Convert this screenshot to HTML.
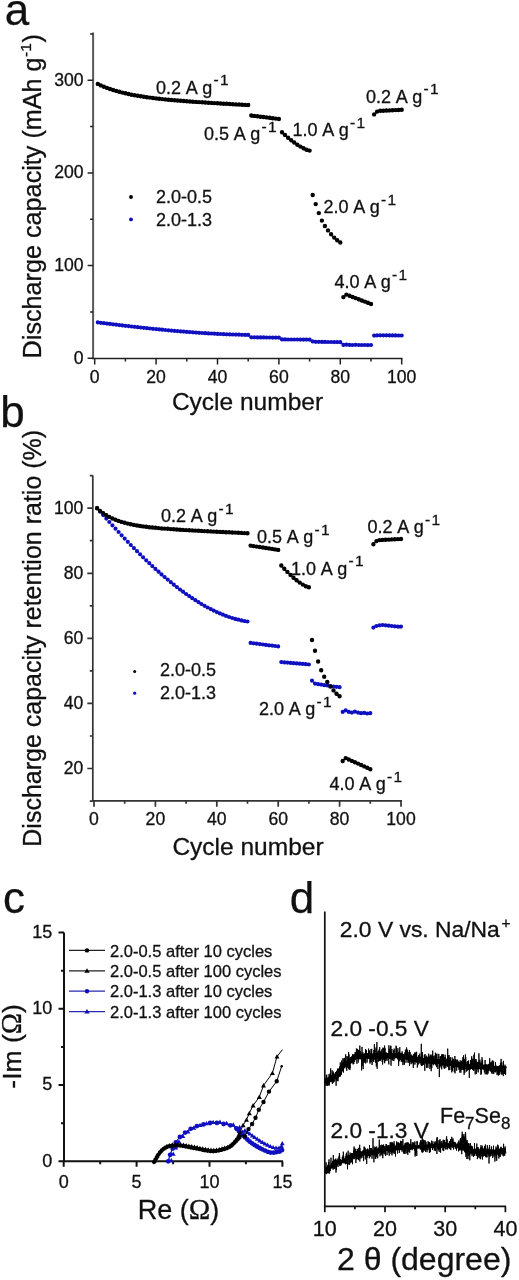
<!DOCTYPE html>
<html><head><meta charset="utf-8"><style>
html,body{margin:0;padding:0;background:#fff;}
svg{display:block;filter:blur(0.35px);}
</style></head><body>
<svg width="519" height="1280" viewBox="0 0 519 1280" font-family='"Liberation Sans", sans-serif'>
<rect width="519" height="1280" fill="#fff"/>
<path d="M93.1 32.5V359" stroke="#585858" stroke-width="2" fill="none"/>
<g stroke="#222" stroke-width="1.5" fill="none">
<path d="M92 358.6H402.5"/>
<path d="M93.1 358.3h-5.5M93.1 311.9h-3M93.1 265.6h-5.5M93.1 219.2h-3M93.1 172.9h-5.5M93.1 126.6h-3M93.1 80.2h-5.5M93.1 33.9h-3M94.7 358.6v6M125.4 358.6v3M156.1 358.6v6M186.8 358.6v3M217.5 358.6v6M248.2 358.6v3M278.9 358.6v6M309.6 358.6v3M340.3 358.6v6M371.0 358.6v3M401.7 358.6v6"/>
</g>
<g fill="#111">
<text x="4.7" y="25" font-size="44" text-anchor="start" stroke="#111" stroke-width="0.25">a</text>
<text x="83.5" y="363.8" font-size="17.6" text-anchor="end" stroke="#111" stroke-width="0.3">0</text>
<text x="83.5" y="271.1" font-size="17.6" text-anchor="end" stroke="#111" stroke-width="0.3">100</text>
<text x="83.5" y="178.4" font-size="17.6" text-anchor="end" stroke="#111" stroke-width="0.3">200</text>
<text x="83.5" y="85.7" font-size="17.6" text-anchor="end" stroke="#111" stroke-width="0.3">300</text>
<text x="94.7" y="383" font-size="17.6" text-anchor="middle" stroke="#111" stroke-width="0.3">0</text>
<text x="156.1" y="383" font-size="17.6" text-anchor="middle" stroke="#111" stroke-width="0.3">20</text>
<text x="217.5" y="383" font-size="17.6" text-anchor="middle" stroke="#111" stroke-width="0.3">40</text>
<text x="278.9" y="383" font-size="17.6" text-anchor="middle" stroke="#111" stroke-width="0.3">60</text>
<text x="340.3" y="383" font-size="17.6" text-anchor="middle" stroke="#111" stroke-width="0.3">80</text>
<text x="401.7" y="383" font-size="17.6" text-anchor="middle" stroke="#111" stroke-width="0.3">100</text>
<text x="247.5" y="410" font-size="24.5" text-anchor="middle" stroke="#111" stroke-width="0.3">Cycle number</text>
<text transform="translate(40.7 196.3) rotate(-90)" font-size="25.2" text-anchor="middle" stroke="#111" stroke-width="0.3">Discharge capacity (mAh g<tspan dy="-10" font-size="15.5" dx="0.5">-1</tspan><tspan dy="10" dx="0.5">)</tspan></text>
<text x="156" y="93.5" font-size="18" stroke="#111" stroke-width="0.3" word-spacing="0.6">0.2 A g<tspan dx="1.3" dy="-8.5" font-size="15.5" letter-spacing="1.2">-1</tspan></text>
<text x="204" y="140" font-size="18" stroke="#111" stroke-width="0.3" word-spacing="0.6">0.5 A g<tspan dx="1.3" dy="-8.5" font-size="15.5" letter-spacing="1.2">-1</tspan></text>
<text x="292.5" y="136" font-size="18" stroke="#111" stroke-width="0.3" word-spacing="0.6">1.0 A g<tspan dx="1.3" dy="-8.5" font-size="15.5" letter-spacing="1.2">-1</tspan></text>
<text x="366" y="102.5" font-size="18" stroke="#111" stroke-width="0.3" word-spacing="0.6">0.2 A g<tspan dx="1.3" dy="-8.5" font-size="15.5" letter-spacing="1.2">-1</tspan></text>
<text x="323.5" y="213" font-size="18" stroke="#111" stroke-width="0.3" word-spacing="0.6">2.0 A g<tspan dx="1.3" dy="-8.5" font-size="15.5" letter-spacing="1.2">-1</tspan></text>
<text x="334.5" y="288" font-size="18" stroke="#111" stroke-width="0.3" word-spacing="0.6">4.0 A g<tspan dx="1.3" dy="-8.5" font-size="15.5" letter-spacing="1.2">-1</tspan></text>
<text x="156" y="203" font-size="18" text-anchor="start" stroke="#111" stroke-width="0.3">2.0-0.5</text>
<text x="156" y="225.5" font-size="18" text-anchor="start" stroke="#111" stroke-width="0.3">2.0-1.3</text>
</g>
<path d="M97.8 322.4h0M100.8 322.8h0M103.9 323.2h0M107.0 323.6h0M110.0 323.9h0M113.1 324.3h0M116.2 324.7h0M119.3 325.1h0M122.3 325.4h0M125.4 325.8h0M128.5 326.1h0M131.5 326.5h0M134.6 326.8h0M137.7 327.2h0M140.8 327.5h0M143.8 327.8h0M146.9 328.2h0M150.0 328.5h0M153.0 328.8h0M156.1 329.1h0M159.2 329.4h0M162.2 329.7h0M165.3 330.0h0M168.4 330.3h0M171.4 330.6h0M174.5 330.9h0M177.6 331.1h0M180.7 331.4h0M183.7 331.6h0M186.8 331.9h0M189.9 332.1h0M192.9 332.3h0M196.0 332.6h0M199.1 332.8h0M202.1 333.0h0M205.2 333.2h0M208.3 333.4h0M211.4 333.5h0M214.4 333.7h0M217.5 333.9h0M220.6 334.0h0M223.6 334.2h0M226.7 334.3h0M229.8 334.4h0M232.9 334.5h0M235.9 334.6h0M239.0 334.7h0M242.1 334.8h0M245.1 334.9h0M248.2 334.9h0M251.3 337.3h0M254.3 337.3h0M257.4 337.4h0M260.5 337.4h0M263.6 337.4h0M266.6 337.5h0M269.7 337.5h0M272.8 337.6h0M275.8 337.6h0M278.9 337.7h0M282.0 339.4h0M285.0 339.4h0M288.1 339.5h0M291.2 339.5h0M294.2 339.5h0M297.3 339.5h0M300.4 339.6h0M303.5 339.6h0M306.5 339.6h0M309.6 339.7h0M312.7 341.4h0M315.7 341.8h0M318.8 341.8h0M321.9 341.9h0M324.9 341.9h0M328.0 342.0h0M331.1 342.0h0M334.2 342.1h0M337.2 342.1h0M340.3 342.2h0M343.4 344.9h0M346.4 344.7h0M349.5 344.9h0M352.6 345.0h0M355.6 344.8h0M358.7 345.0h0M361.8 345.0h0M364.9 345.0h0M367.9 345.1h0M371.0 345.0h0M374.1 335.6h0M377.1 335.4h0M380.2 335.3h0M383.3 335.3h0M386.3 335.3h0M389.4 335.4h0M392.5 335.4h0M395.6 335.4h0M398.6 335.5h0M401.7 335.5h0" stroke="#1010c0" stroke-width="4.2" stroke-linecap="round" fill="none"/>
<path d="M97.8 83.9h0M100.8 85.4h0M103.9 86.7h0M107.0 87.9h0M110.0 89.0h0M113.1 90.0h0M116.2 90.9h0M119.3 91.8h0M122.3 92.6h0M125.4 93.3h0M128.5 94.0h0M131.5 94.7h0M134.6 95.2h0M137.7 95.8h0M140.8 96.3h0M143.8 96.8h0M146.9 97.2h0M150.0 97.6h0M153.0 98.0h0M156.1 98.4h0M159.2 98.7h0M162.2 99.1h0M165.3 99.4h0M168.4 99.7h0M171.4 100.0h0M174.5 100.2h0M177.6 100.5h0M180.7 100.8h0M183.7 101.0h0M186.8 101.2h0M189.9 101.5h0M192.9 101.7h0M196.0 101.9h0M199.1 102.1h0M202.1 102.3h0M205.2 102.5h0M208.3 102.7h0M211.4 102.9h0M214.4 103.1h0M217.5 103.3h0M220.6 103.5h0M223.6 103.7h0M226.7 103.8h0M229.8 104.0h0M232.9 104.2h0M235.9 104.4h0M239.0 104.5h0M242.1 104.7h0M245.1 104.9h0M248.2 105.0h0M251.3 115.5h0M254.3 115.9h0M257.4 116.3h0M260.5 116.7h0M263.6 117.0h0M266.6 117.4h0M269.7 117.8h0M272.8 118.2h0M275.8 118.6h0M278.9 119.0h0M282.0 132.2h0M285.0 135.0h0M288.1 137.7h0M291.2 140.2h0M294.2 142.5h0M297.3 144.7h0M300.4 146.6h0M303.5 148.3h0M306.5 149.7h0M309.6 150.6h0M312.7 195.0h0M315.7 204.1h0M318.8 213.1h0M321.9 220.6h0M324.9 226.0h0M328.0 230.4h0M331.1 234.3h0M334.2 237.6h0M337.2 240.3h0M340.3 242.5h0M343.4 297.1h0M346.4 294.6h0M349.5 295.8h0M352.6 297.0h0M355.6 298.1h0M358.7 299.3h0M361.8 300.5h0M364.9 301.6h0M367.9 302.8h0M371.0 304.0h0M374.1 114.4h0M377.1 111.6h0M380.2 110.8h0M383.3 110.7h0M386.3 110.5h0M389.4 110.4h0M392.5 110.2h0M395.6 110.1h0M398.6 110.0h0M401.7 109.8h0" stroke="#000" stroke-width="4.4" stroke-linecap="round" fill="none"/>
<path d="M131.0 197.0h0" stroke="#000" stroke-width="3.9" stroke-linecap="round" fill="none"/>
<path d="M131.0 219.4h0" stroke="#1010c0" stroke-width="3.9" stroke-linecap="round" fill="none"/>
<g stroke="#333" stroke-width="1.7" fill="none">
<path d="M92.8 475.5V800.8H402"/>
<path d="M92.8 801.1h-3M92.8 768.5h-5.5M92.8 736.0h-3M92.8 703.4h-5.5M92.8 670.9h-3M92.8 638.4h-5.5M92.8 605.8h-3M92.8 573.3h-5.5M92.8 540.7h-3M92.8 508.2h-5.5M92.8 475.7h-3M94.0 800.8v6M124.7 800.8v3M155.4 800.8v6M186.1 800.8v3M216.8 800.8v6M247.5 800.8v3M278.2 800.8v6M308.9 800.8v3M339.6 800.8v6M370.3 800.8v3M401.0 800.8v6"/>
</g>
<g fill="#111">
<text x="0.2" y="427" font-size="44" text-anchor="start" stroke="#111" stroke-width="0.25">b</text>
<text x="83.3" y="774.32" font-size="17.6" text-anchor="end" stroke="#111" stroke-width="0.3">20</text>
<text x="83.3" y="709.24" font-size="17.6" text-anchor="end" stroke="#111" stroke-width="0.3">40</text>
<text x="83.3" y="644.16" font-size="17.6" text-anchor="end" stroke="#111" stroke-width="0.3">60</text>
<text x="83.3" y="579.08" font-size="17.6" text-anchor="end" stroke="#111" stroke-width="0.3">80</text>
<text x="83.3" y="514" font-size="17.6" text-anchor="end" stroke="#111" stroke-width="0.3">100</text>
<text x="94" y="825.3" font-size="17.6" text-anchor="middle" stroke="#111" stroke-width="0.3">0</text>
<text x="155.4" y="825.3" font-size="17.6" text-anchor="middle" stroke="#111" stroke-width="0.3">20</text>
<text x="216.8" y="825.3" font-size="17.6" text-anchor="middle" stroke="#111" stroke-width="0.3">40</text>
<text x="278.2" y="825.3" font-size="17.6" text-anchor="middle" stroke="#111" stroke-width="0.3">60</text>
<text x="339.6" y="825.3" font-size="17.6" text-anchor="middle" stroke="#111" stroke-width="0.3">80</text>
<text x="401" y="825.3" font-size="17.6" text-anchor="middle" stroke="#111" stroke-width="0.3">100</text>
<text x="248" y="855" font-size="24.5" text-anchor="middle" stroke="#111" stroke-width="0.3">Cycle number</text>
<text transform="translate(40.8 638.3) rotate(-90)" font-size="25" text-anchor="middle" stroke="#111" stroke-width="0.3">Discharge capacity retention ratio (%)</text>
<text x="161" y="522" font-size="18" stroke="#111" stroke-width="0.3" word-spacing="0.6">0.2 A g<tspan dx="1.3" dy="-8.5" font-size="15.5" letter-spacing="1.2">-1</tspan></text>
<text x="257" y="543.4" font-size="18" stroke="#111" stroke-width="0.3" word-spacing="0.6">0.5 A g<tspan dx="1.3" dy="-8.5" font-size="15.5" letter-spacing="1.2">-1</tspan></text>
<text x="291" y="574.6" font-size="18" stroke="#111" stroke-width="0.3" word-spacing="0.6">1.0 A g<tspan dx="1.3" dy="-8.5" font-size="15.5" letter-spacing="1.2">-1</tspan></text>
<text x="367.5" y="533" font-size="18" stroke="#111" stroke-width="0.3" word-spacing="0.6">0.2 A g<tspan dx="1.3" dy="-8.5" font-size="15.5" letter-spacing="1.2">-1</tspan></text>
<text x="259" y="715.4" font-size="18" stroke="#111" stroke-width="0.3" word-spacing="0.6">2.0 A g<tspan dx="1.3" dy="-8.5" font-size="15.5" letter-spacing="1.2">-1</tspan></text>
<text x="329.5" y="790.4" font-size="18" stroke="#111" stroke-width="0.3" word-spacing="0.6">4.0 A g<tspan dx="1.3" dy="-8.5" font-size="15.5" letter-spacing="1.2">-1</tspan></text>
<text x="160" y="676" font-size="18" text-anchor="start" stroke="#111" stroke-width="0.3">2.0-0.5</text>
<text x="160" y="698.7" font-size="18" text-anchor="start" stroke="#111" stroke-width="0.3">2.0-1.3</text>
</g>
<path d="M97.1 508.2h0M100.1 511.7h0M103.2 515.1h0M106.3 518.6h0M109.3 522.0h0M112.4 525.3h0M115.5 528.7h0M118.6 532.0h0M121.6 535.3h0M124.7 538.6h0M127.8 541.8h0M130.8 545.0h0M133.9 548.1h0M137.0 551.2h0M140.1 554.3h0M143.1 557.3h0M146.2 560.3h0M149.3 563.2h0M152.3 566.1h0M155.4 568.9h0M158.5 571.7h0M161.5 574.4h0M164.6 577.0h0M167.7 579.6h0M170.8 582.2h0M173.8 584.7h0M176.9 587.1h0M180.0 589.5h0M183.0 591.7h0M186.1 594.0h0M189.2 596.1h0M192.2 598.2h0M195.3 600.2h0M198.4 602.1h0M201.4 604.0h0M204.5 605.8h0M207.6 607.5h0M210.7 609.1h0M213.7 610.6h0M216.8 612.1h0M219.9 613.4h0M222.9 614.7h0M226.0 615.9h0M229.1 617.0h0M232.2 618.0h0M235.2 618.9h0M238.3 619.7h0M241.4 620.4h0M244.4 621.0h0M247.5 621.5h0M250.6 642.9h0M253.6 643.3h0M256.7 643.7h0M259.8 644.1h0M262.9 644.5h0M265.9 644.9h0M269.0 645.3h0M272.1 645.6h0M275.1 646.0h0M278.2 646.4h0M281.3 662.1h0M284.3 662.4h0M287.4 662.6h0M290.5 662.9h0M293.5 663.2h0M296.6 663.4h0M299.7 663.7h0M302.8 663.9h0M305.8 664.2h0M308.9 664.5h0M312.0 680.7h0M315.0 683.6h0M318.1 684.2h0M321.2 684.6h0M324.2 685.2h0M327.3 685.5h0M330.4 686.2h0M333.5 686.5h0M336.5 686.8h0M339.6 687.2h0M342.7 711.9h0M345.7 710.3h0M348.8 711.9h0M351.9 712.6h0M354.9 711.6h0M358.0 712.6h0M361.1 713.2h0M364.2 712.9h0M367.2 713.5h0M370.3 713.2h0M373.4 627.6h0M376.4 626.0h0M379.5 625.3h0M382.6 625.0h0M385.6 625.3h0M388.7 625.7h0M391.8 626.0h0M394.9 626.3h0M397.9 626.6h0M401.0 626.6h0" stroke="#1010c0" stroke-width="4.2" stroke-linecap="round" fill="none"/>
<path d="M97.1 508.2h0M100.1 510.9h0M103.2 513.2h0M106.3 515.2h0M109.3 516.9h0M112.4 518.5h0M115.5 519.8h0M118.6 520.9h0M121.6 521.9h0M124.7 522.8h0M127.8 523.6h0M130.8 524.3h0M133.9 524.9h0M137.0 525.5h0M140.1 526.0h0M143.1 526.4h0M146.2 526.8h0M149.3 527.2h0M152.3 527.5h0M155.4 527.8h0M158.5 528.1h0M161.5 528.4h0M164.6 528.6h0M167.7 528.8h0M170.8 529.1h0M173.8 529.3h0M176.9 529.5h0M180.0 529.7h0M183.0 529.9h0M186.1 530.1h0M189.2 530.2h0M192.2 530.4h0M195.3 530.6h0M198.4 530.8h0M201.4 530.9h0M204.5 531.1h0M207.6 531.2h0M210.7 531.4h0M213.7 531.6h0M216.8 531.7h0M219.9 531.9h0M222.9 532.0h0M226.0 532.2h0M229.1 532.3h0M232.2 532.5h0M235.2 532.6h0M238.3 532.8h0M241.4 532.9h0M244.4 533.1h0M247.5 533.2h0M250.6 545.6h0M253.6 546.1h0M256.7 546.6h0M259.8 547.0h0M262.9 547.5h0M265.9 548.0h0M269.0 548.4h0M272.1 548.9h0M275.1 549.4h0M278.2 549.9h0M281.3 565.5h0M284.3 568.8h0M287.4 571.9h0M290.5 574.9h0M293.5 577.7h0M296.6 580.3h0M299.7 582.6h0M302.8 584.6h0M305.8 586.3h0M308.9 587.3h0M312.0 640.0h0M315.0 650.7h0M318.1 661.5h0M321.2 670.2h0M324.2 676.8h0M327.3 682.0h0M330.4 686.5h0M333.5 690.4h0M336.5 693.7h0M339.6 696.3h0M342.7 761.0h0M345.7 758.1h0M348.8 759.5h0M351.9 760.9h0M354.9 762.3h0M358.0 763.6h0M361.1 765.0h0M364.2 766.4h0M367.2 767.8h0M370.3 769.2h0M373.4 544.3h0M376.4 541.1h0M379.5 540.1h0M382.6 539.9h0M385.6 539.8h0M388.7 539.6h0M391.8 539.4h0M394.9 539.3h0M397.9 539.1h0M401.0 539.0h0" stroke="#000" stroke-width="4.4" stroke-linecap="round" fill="none"/>
<path d="M134.7 671.4h0" stroke="#000" stroke-width="3.0" stroke-linecap="round" fill="none"/>
<path d="M134.7 693.2h0" stroke="#1010c0" stroke-width="3.2" stroke-linecap="round" fill="none"/>
<g stroke="#111" stroke-width="2" fill="none">
<path d="M64 932.5V1161.3H283"/>
<path d="M64 1161.3h-5.5M63.7 1161.3v5.5M64 1123.2h-3M100.2 1161.3v3M64 1085.0h-5.5M136.6 1161.3v5.5M64 1046.9h-3M173.1 1161.3v3M64 1008.8h-5.5M209.5 1161.3v5.5M64 970.7h-3M245.9 1161.3v3M64 932.5h-5.5M282.4 1161.3v5.5"/>
</g>
<g fill="#111">
<text x="3" y="912.5" font-size="44" text-anchor="start" stroke="#111" stroke-width="0.25">c</text>
<text x="52.3" y="1166.5" font-size="18" text-anchor="end" stroke="#111" stroke-width="0.3">0</text>
<text x="63.7" y="1187.8" font-size="18" text-anchor="middle" stroke="#111" stroke-width="0.3">0</text>
<text x="52.3" y="1090.25" font-size="18" text-anchor="end" stroke="#111" stroke-width="0.3">5</text>
<text x="136.6" y="1187.8" font-size="18" text-anchor="middle" stroke="#111" stroke-width="0.3">5</text>
<text x="52.3" y="1014" font-size="18" text-anchor="end" stroke="#111" stroke-width="0.3">10</text>
<text x="209.5" y="1187.8" font-size="18" text-anchor="middle" stroke="#111" stroke-width="0.3">10</text>
<text x="52.3" y="937.75" font-size="18" text-anchor="end" stroke="#111" stroke-width="0.3">15</text>
<text x="282.4" y="1187.8" font-size="18" text-anchor="middle" stroke="#111" stroke-width="0.3">15</text>
<text x="178.5" y="1218.5" font-size="27" text-anchor="middle" stroke="#111" stroke-width="0.3">Re (<tspan font-family='"Liberation Serif", serif' font-size="29">Ω</tspan>)</text>
<text transform="translate(21.3 1046.4) rotate(-90)" font-size="26.5" text-anchor="middle" stroke="#111" stroke-width="0.3">-Im (<tspan font-family='"Liberation Serif", serif' font-size="28.5">Ω</tspan>)</text>
<text x="110" y="956.5" font-size="16.5" text-anchor="start" stroke="#111" stroke-width="0.3">2.0-0.5 after 10 cycles</text>
<text x="110" y="976.9" font-size="16.5" text-anchor="start" stroke="#111" stroke-width="0.3">2.0-0.5 after 100 cycles</text>
<text x="110" y="997.3" font-size="16.5" text-anchor="start" stroke="#111" stroke-width="0.3">2.0-1.3 after 10 cycles</text>
<text x="110" y="1017.7" font-size="16.5" text-anchor="start" stroke="#111" stroke-width="0.3">2.0-1.3 after 100 cycles</text>
</g>
<path d="M69 950.4H105" stroke="#222" stroke-width="1.3"/>
<circle cx="87" cy="950.4" r="2.2" fill="#000"/>
<path d="M69 970.8H105" stroke="#222" stroke-width="1.3"/>
<path d="M84.3 972.8L87 968.2L89.7 972.8Z" fill="#000"/>
<path d="M69 991.2H105" stroke="#2828b0" stroke-width="1.3"/>
<circle cx="87" cy="991.2" r="2.2" fill="#1010c0"/>
<path d="M69 1011.6H105" stroke="#2828b0" stroke-width="1.3"/>
<path d="M84.3 1013.6L87 1009.0L89.7 1013.6Z" fill="#1010c0"/>
<path d="M168.2 1161.3 168.4 1160.9 168.5 1160.3 168.7 1159.7 168.9 1159.0 169.1 1158.2 169.3 1157.4 169.6 1156.5 169.9 1155.6 170.2 1154.7 170.5 1153.8 170.8 1152.9 171.2 1152.0 171.5 1151.1 171.9 1150.2 172.4 1149.2 172.9 1148.2 173.3 1147.2 173.8 1146.1 174.3 1145.1 174.9 1144.1 175.4 1143.1 175.9 1142.2 176.5 1141.4 177.0 1140.6 177.5 1139.8 178.0 1139.1 178.5 1138.5 179.0 1137.9 179.5 1137.4 180.0 1136.8 180.6 1136.3 181.1 1135.8 181.7 1135.3 182.3 1134.8 183.0 1134.2 183.7 1133.7 184.4 1133.1 185.2 1132.5 186.0 1131.9 186.8 1131.3 187.7 1130.7 188.6 1130.1 189.5 1129.5 190.4 1129.0 191.4 1128.4 192.4 1127.9 193.3 1127.4 194.3 1127.0 195.4 1126.6 196.5 1126.2 197.6 1125.8 198.8 1125.5 200.0 1125.2 201.2 1124.9 202.4 1124.6 203.6 1124.3 204.7 1124.1 205.8 1123.9 206.8 1123.7 207.8 1123.5 208.6 1123.3 209.3 1123.2 210.0 1123.0 210.6 1122.9 211.2 1122.8 211.7 1122.8 212.3 1122.7 212.8 1122.7 213.4 1122.7 214.0 1122.7 214.7 1122.7 215.5 1122.7 216.3 1122.8 217.2 1122.9 218.2 1123.0 219.2 1123.2 220.2 1123.3 221.2 1123.5 222.3 1123.7 223.3 1123.9 224.3 1124.1 225.3 1124.3 226.2 1124.5 227.0 1124.7 227.8 1124.9 228.5 1125.0 229.2 1125.2 229.9 1125.3 230.5 1125.5 231.1 1125.7 231.7 1125.8 232.3 1126.0 232.9 1126.2 233.5 1126.5 234.1 1126.7 234.7 1127.0 235.4 1127.3 236.1 1127.7 236.8 1128.2 237.5 1128.6 238.2 1129.1 238.9 1129.6 239.6 1130.1 240.2 1130.6 240.8 1131.0 241.4 1131.4 242.0 1131.7 242.5 1131.9 242.8 1132.0 243.1 1131.9 243.3 1131.8 243.5 1131.6 243.6 1131.4 243.7 1131.1 243.8 1130.9 244.0 1130.7 244.2 1130.5 244.5 1130.5 245.0 1130.6 245.5 1130.8 246.2 1131.2 247.0 1131.7 247.9 1132.3 248.8 1132.9 249.9 1133.7 250.9 1134.5 252.0 1135.3 253.2 1136.1 254.3 1137.0 255.4 1137.8 256.5 1138.5 257.6 1139.2 258.7 1139.8 259.8 1140.5 261.0 1141.2 262.1 1141.9 263.3 1142.5 264.5 1143.2 265.6 1143.8 266.8 1144.4 267.8 1145.0 268.9 1145.5 269.8 1146.0 270.7 1146.4 271.6 1146.7 272.3 1147.0 273.1 1147.2 273.7 1147.4 274.4 1147.6 275.0 1147.7 275.5 1147.8 276.1 1147.8 276.6 1147.9 277.1 1147.9 277.6 1147.9 278.0 1147.9 278.5 1147.8 278.9 1147.8 279.3 1147.7 279.6 1147.6 280.0 1147.4 280.3 1147.3 280.5 1147.1 280.8 1146.9 281.1 1146.7 281.3 1146.5 281.5 1146.3 281.7 1146.0 281.8 1145.8 282.0 1145.5 282.1 1145.2 282.2 1144.9 282.2 1144.6 282.3 1144.3 282.3 1143.9 282.3 1143.6 282.3 1143.3 282.4 1143.1 282.4 1142.9 282.4 1142.7" stroke="#1010c0" stroke-width="1.0" fill="none"/>
<path d="M168.9 1162.2l2.4 -4.2l2.4 4.2zM170.8 1155.7l2.4 -4.2l2.4 4.2zM173.4 1149.4l2.4 -4.2l2.4 4.2zM176.5 1143.4l2.4 -4.2l2.4 4.2zM180.5 1137.9l2.4 -4.2l2.4 4.2zM185.7 1133.6l2.4 -4.2l2.4 4.2zM191.4 1129.7l2.4 -4.2l2.4 4.2zM197.6 1127.0l2.4 -4.2l2.4 4.2zM204.1 1125.3l2.4 -4.2l2.4 4.2zM210.8 1123.9l2.4 -4.2l2.4 4.2zM217.6 1123.8l2.4 -4.2l2.4 4.2zM224.3 1124.9l2.4 -4.2l2.4 4.2zM230.9 1126.4l2.4 -4.2l2.4 4.2zM237.2 1128.9l2.4 -4.2l2.4 4.2zM242.8 1132.7l2.4 -4.2l2.4 4.2zM235.1 1130.6l2.4 -4.2l2.4 4.2zM237.5 1132.3l2.4 -4.2l2.4 4.2zM240.1 1133.8l2.4 -4.2l2.4 4.2zM242.4 1132.5l2.4 -4.2l2.4 4.2zM245.0 1133.9l2.4 -4.2l2.4 4.2zM247.4 1135.6l2.4 -4.2l2.4 4.2zM249.9 1137.4l2.4 -4.2l2.4 4.2zM252.3 1139.1l2.4 -4.2l2.4 4.2zM254.8 1140.8l2.4 -4.2l2.4 4.2zM257.3 1142.4l2.4 -4.2l2.4 4.2zM259.9 1143.9l2.4 -4.2l2.4 4.2zM262.5 1145.4l2.4 -4.2l2.4 4.2zM265.2 1146.8l2.4 -4.2l2.4 4.2zM267.9 1148.1l2.4 -4.2l2.4 4.2zM270.7 1149.1l2.4 -4.2l2.4 4.2zM273.6 1149.7l2.4 -4.2l2.4 4.2zM276.6 1149.7l2.4 -4.2l2.4 4.2zM279.1 1148.1l2.4 -4.2l2.4 4.2zM279.9 1145.3l2.4 -4.2l2.4 4.2z" fill="#1010c0"/>
<path d="M168.2 1161.3 168.4 1160.9 168.5 1160.3 168.7 1159.7 168.9 1159.0 169.1 1158.2 169.3 1157.4 169.6 1156.5 169.9 1155.6 170.2 1154.7 170.5 1153.8 170.8 1152.9 171.2 1152.0 171.5 1151.1 171.9 1150.2 172.4 1149.2 172.9 1148.2 173.3 1147.2 173.8 1146.1 174.3 1145.1 174.9 1144.1 175.4 1143.1 175.9 1142.2 176.5 1141.4 177.0 1140.6 177.5 1139.8 178.0 1139.1 178.5 1138.5 179.0 1137.9 179.5 1137.4 180.0 1136.8 180.6 1136.3 181.1 1135.8 181.7 1135.3 182.3 1134.8 183.0 1134.2 183.7 1133.7 184.4 1133.1 185.2 1132.5 186.0 1131.9 186.8 1131.3 187.7 1130.7 188.6 1130.1 189.5 1129.5 190.4 1129.0 191.4 1128.4 192.4 1127.9 193.3 1127.4 194.3 1127.0 195.4 1126.6 196.5 1126.2 197.6 1125.8 198.8 1125.5 200.0 1125.2 201.2 1124.9 202.4 1124.6 203.6 1124.3 204.7 1124.1 205.8 1123.9 206.8 1123.7 207.8 1123.5 208.6 1123.3 209.3 1123.2 210.0 1123.0 210.6 1122.9 211.2 1122.8 211.7 1122.8 212.3 1122.7 212.8 1122.7 213.4 1122.7 214.0 1122.7 214.7 1122.7 215.5 1122.7 216.3 1122.8 217.2 1122.9 218.2 1123.0 219.2 1123.2 220.2 1123.3 221.2 1123.5 222.3 1123.7 223.3 1123.9 224.3 1124.1 225.3 1124.3 226.2 1124.5 227.0 1124.7 227.8 1124.9 228.5 1125.0 229.2 1125.1 229.9 1125.3 230.5 1125.4 231.2 1125.5 231.8 1125.7 232.4 1125.9 233.0 1126.1 233.5 1126.3 234.1 1126.6 234.7 1127.0 235.3 1127.4 235.8 1127.8 236.4 1128.3 236.8 1128.8 237.3 1129.3 237.8 1129.9 238.3 1130.5 238.9 1131.1 239.4 1131.8 240.0 1132.5 240.7 1133.1 241.4 1133.8 242.2 1134.6 243.1 1135.4 243.9 1136.3 244.8 1137.1 245.8 1138.0 246.8 1139.0 247.8 1139.9 248.8 1140.8 249.9 1141.7 251.0 1142.6 252.1 1143.4 253.2 1144.2 254.4 1145.0 255.7 1145.8 257.1 1146.6 258.5 1147.3 259.9 1148.1 261.3 1148.8 262.7 1149.5 264.1 1150.2 265.4 1150.8 266.7 1151.3 267.8 1151.8 268.8 1152.1 269.8 1152.4 270.6 1152.6 271.4 1152.7 272.1 1152.8 272.8 1152.8 273.4 1152.7 273.9 1152.7 274.5 1152.6 275.0 1152.4 275.5 1152.3 276.0 1152.2 276.6 1152.1 277.1 1152.1 277.6 1152.0 278.1 1151.9 278.6 1151.8 279.1 1151.7 279.6 1151.6 280.0 1151.4 280.4 1151.3 280.8 1151.1 281.1 1151.0 281.4 1150.8 281.7 1150.6 281.9 1150.4 282.1 1150.2 282.2 1149.9 282.3 1149.6 282.3 1149.3 282.4 1149.0 282.4 1148.7 282.4 1148.4 282.4 1148.2 282.4 1147.9 282.4 1147.7 282.4 1147.6" stroke="#1010c0" stroke-width="1.0" fill="none"/>
<path d="M168.2 1161.3h0M170.1 1154.8h0M172.7 1148.5h0M175.8 1142.4h0M179.9 1137.0h0M185.1 1132.6h0M190.7 1128.8h0M196.9 1126.1h0M203.5 1124.4h0M210.1 1123.0h0M216.9 1122.9h0M223.6 1124.0h0M230.3 1125.3h0M236.3 1128.3h0M240.9 1133.3h0M236.8 1128.8h0M238.8 1131.1h0M240.8 1133.3h0M243.0 1135.4h0M245.2 1137.4h0M247.4 1139.5h0M249.6 1141.5h0M252.0 1143.3h0M254.5 1145.0h0M257.0 1146.5h0M259.7 1148.0h0M262.3 1149.3h0M265.0 1150.6h0M267.8 1151.8h0M270.7 1152.6h0M273.7 1152.7h0M276.6 1152.1h0M279.6 1151.6h0M282.1 1150.1h0" stroke="#1010c0" stroke-width="4.8" stroke-linecap="round" fill="none"/>
<path d="M154.1 1161.3 154.4 1160.8 154.7 1160.2 155.0 1159.5 155.5 1158.8 155.9 1157.9 156.4 1157.0 156.9 1156.1 157.4 1155.2 158.0 1154.3 158.5 1153.5 159.1 1152.7 159.6 1152.0 160.2 1151.4 160.7 1150.8 161.3 1150.2 161.9 1149.6 162.4 1149.1 163.0 1148.6 163.7 1148.1 164.3 1147.7 165.0 1147.3 165.7 1146.9 166.4 1146.5 167.2 1146.2 168.0 1145.9 168.9 1145.7 169.7 1145.5 170.6 1145.3 171.6 1145.1 172.5 1145.0 173.5 1144.9 174.5 1144.8 175.6 1144.8 176.6 1144.8 177.7 1144.8 178.9 1144.8 180.1 1144.9 181.3 1145.0 182.6 1145.2 183.9 1145.4 185.2 1145.7 186.6 1145.9 188.0 1146.2 189.4 1146.5 190.8 1146.8 192.2 1147.1 193.5 1147.3 194.9 1147.6 196.3 1147.8 197.7 1148.1 199.2 1148.4 200.7 1148.7 202.1 1149.0 203.6 1149.3 205.1 1149.6 206.5 1149.8 207.9 1150.1 209.2 1150.3 210.5 1150.4 211.7 1150.5 212.8 1150.5 213.9 1150.5 214.9 1150.4 215.9 1150.3 216.8 1150.2 217.7 1150.0 218.5 1149.9 219.4 1149.7 220.2 1149.5 221.0 1149.2 221.8 1149.0 222.6 1148.8 223.4 1148.6 224.1 1148.4 224.9 1148.2 225.5 1148.0 226.2 1147.8 226.9 1147.5 227.5 1147.3 228.2 1147.0 228.8 1146.6 229.5 1146.3 230.2 1145.8 230.9 1145.3 231.7 1144.7 232.6 1143.9 233.5 1143.1 234.4 1142.1 235.3 1141.2 236.3 1140.2 237.2 1139.2 238.0 1138.3 238.8 1137.4 239.5 1136.7 240.1 1136.0 240.6 1135.5 244.7 1136.3 248.5 1129.1 252.1 1124.0 255.5 1117.8 258.8 1109.7 263.5 1102.0 269.0 1091.6 276.7 1081.3 281.7 1066.2" stroke="#000" stroke-width="1.0" fill="none"/>
<path d="M154.1 1162.1h0M155.4 1159.6h0M156.8 1157.2h0M158.2 1154.8h0M159.9 1152.5h0M161.8 1150.5h0M164.0 1148.7h0M166.4 1147.3h0M169.0 1146.4h0M171.8 1145.9h0M174.6 1145.6h0M177.4 1145.6h0M180.2 1145.7h0M182.9 1146.1h0M185.7 1146.6h0M188.4 1147.1h0M191.2 1147.7h0M193.9 1148.2h0M196.7 1148.7h0M199.4 1149.2h0M202.2 1149.8h0M204.9 1150.4h0M207.7 1150.8h0M210.5 1151.2h0M213.3 1151.3h0M216.0 1151.1h0M218.8 1150.6h0M221.5 1149.9h0M224.2 1149.2h0M226.9 1148.3h0M229.4 1147.1h0M231.7 1145.5h0M233.7 1143.6h0M235.7 1141.6h0M237.6 1139.5h0M239.5 1137.5h0" stroke="#000" stroke-width="4.3" stroke-linecap="round" fill="none"/>
<path d="M244.7 1136.3h0M248.5 1129.1h0M252.1 1124.0h0M255.5 1117.8h0M258.8 1109.7h0M263.5 1102.0h0M269.0 1091.6h0M276.7 1081.3h0" stroke="#000" stroke-width="4.4" stroke-linecap="round" fill="none"/>
<path d="M281.7 1066.2h0" stroke="#000" stroke-width="2.5" stroke-linecap="round" fill="none"/>
<path d="M154.6 1160.7 154.9 1160.2 155.2 1159.6 155.5 1158.9 156.0 1158.2 156.4 1157.3 156.9 1156.4 157.4 1155.5 157.9 1154.6 158.5 1153.7 159.0 1152.9 159.6 1152.1 160.1 1151.4 160.7 1150.8 161.2 1150.2 161.8 1149.6 162.4 1149.0 162.9 1148.5 163.5 1148.0 164.2 1147.5 164.8 1147.1 165.5 1146.7 166.2 1146.3 166.9 1145.9 167.7 1145.6 168.5 1145.3 169.4 1145.1 170.2 1144.9 171.1 1144.7 172.1 1144.5 173.0 1144.4 174.0 1144.3 175.0 1144.2 176.1 1144.2 177.1 1144.2 178.2 1144.2 179.4 1144.2 180.6 1144.3 181.8 1144.4 183.1 1144.6 184.4 1144.8 185.7 1145.1 187.1 1145.3 188.5 1145.6 189.9 1145.9 191.3 1146.2 192.7 1146.5 194.0 1146.7 195.4 1147.0 196.8 1147.2 198.2 1147.5 199.7 1147.8 201.2 1148.1 202.6 1148.4 204.1 1148.7 205.6 1149.0 207.0 1149.2 208.4 1149.5 209.7 1149.7 211.0 1149.8 212.2 1149.9 213.3 1149.9 214.4 1149.9 215.4 1149.8 216.4 1149.7 217.3 1149.6 218.2 1149.4 219.0 1149.3 219.9 1149.1 220.7 1148.9 221.5 1148.6 222.3 1148.4 223.1 1148.2 223.9 1148.0 224.6 1147.8 225.4 1147.6 226.0 1147.4 226.7 1147.2 227.4 1146.9 228.0 1146.7 228.7 1146.4 229.3 1146.0 230.0 1145.7 230.7 1145.2 231.4 1144.7 237.5 1137.5 240.5 1131.0 243.1 1125.2 246.5 1119.8 249.3 1113.2 253.1 1105.5 259.3 1097.0 263.5 1085.5 272.4 1073.1 277.0 1056.6 282.4 1049.6" stroke="#000" stroke-width="1.0" fill="none"/>
<path d="M152.3 1162.5l2.3 -4.0l2.3 4.0zM153.6 1160.1l2.3 -4.0l2.3 4.0zM155.0 1157.6l2.3 -4.0l2.3 4.0zM156.4 1155.2l2.3 -4.0l2.3 4.0zM158.1 1153.0l2.3 -4.0l2.3 4.0zM160.0 1150.9l2.3 -4.0l2.3 4.0zM162.2 1149.2l2.3 -4.0l2.3 4.0zM164.6 1147.8l2.3 -4.0l2.3 4.0zM167.2 1146.9l2.3 -4.0l2.3 4.0zM170.0 1146.3l2.3 -4.0l2.3 4.0zM172.8 1146.1l2.3 -4.0l2.3 4.0zM175.6 1146.0l2.3 -4.0l2.3 4.0zM178.4 1146.2l2.3 -4.0l2.3 4.0zM181.1 1146.5l2.3 -4.0l2.3 4.0zM183.9 1147.0l2.3 -4.0l2.3 4.0zM186.6 1147.5l2.3 -4.0l2.3 4.0zM189.4 1148.1l2.3 -4.0l2.3 4.0zM192.1 1148.6l2.3 -4.0l2.3 4.0zM194.9 1149.1l2.3 -4.0l2.3 4.0zM197.6 1149.7l2.3 -4.0l2.3 4.0zM200.4 1150.2l2.3 -4.0l2.3 4.0zM203.1 1150.8l2.3 -4.0l2.3 4.0zM205.9 1151.3l2.3 -4.0l2.3 4.0zM208.7 1151.6l2.3 -4.0l2.3 4.0zM211.5 1151.7l2.3 -4.0l2.3 4.0zM214.2 1151.5l2.3 -4.0l2.3 4.0zM217.0 1151.0l2.3 -4.0l2.3 4.0zM219.7 1150.3l2.3 -4.0l2.3 4.0zM222.4 1149.6l2.3 -4.0l2.3 4.0zM225.1 1148.8l2.3 -4.0l2.3 4.0zM227.6 1147.6l2.3 -4.0l2.3 4.0zM229.7 1145.8l2.3 -4.0l2.3 4.0zM231.6 1143.7l2.3 -4.0l2.3 4.0zM233.4 1141.5l2.3 -4.0l2.3 4.0zM235.2 1139.4l2.3 -4.0l2.3 4.0zM236.4 1136.8l2.3 -4.0l2.3 4.0zM237.5 1134.3l2.3 -4.0l2.3 4.0z" fill="#000"/>
<path d="M240.6 1127.2l2.5 -4.4l2.5 4.4zM244.0 1121.8l2.5 -4.4l2.5 4.4zM246.8 1115.2l2.5 -4.4l2.5 4.4zM250.6 1107.5l2.5 -4.4l2.5 4.4zM256.8 1099.0l2.5 -4.4l2.5 4.4zM261.0 1087.5l2.5 -4.4l2.5 4.4zM269.9 1075.1l2.5 -4.4l2.5 4.4zM274.5 1058.6l2.5 -4.4l2.5 4.4z" fill="#000"/>
<g stroke="#111" stroke-width="1.7" fill="none">
<path d="M324.8 911.5V1206.3H506"/>
<path d="M324.8 1206.3v6M354.9 1206.3v3M385.0 1206.3v6M415.1 1206.3v3M445.2 1206.3v6M475.3 1206.3v3M505.4 1206.3v6"/>
</g>
<g fill="#111">
<text x="289.8" y="913" font-size="44" text-anchor="start" stroke="#111" stroke-width="0.25">d</text>
<text x="324.8" y="1236" font-size="21.5" text-anchor="middle" stroke="#111" stroke-width="0.3">10</text>
<text x="385" y="1236" font-size="21.5" text-anchor="middle" stroke="#111" stroke-width="0.3">20</text>
<text x="445.2" y="1236" font-size="21.5" text-anchor="middle" stroke="#111" stroke-width="0.3">30</text>
<text x="505.4" y="1236" font-size="21.5" text-anchor="middle" stroke="#111" stroke-width="0.3">40</text>
<text x="337" y="1270" font-size="32" text-anchor="start" stroke="#111" stroke-width="0.3">2 θ (degree)</text>
<text x="339.8" y="937.3" font-size="22.85" stroke="#111" stroke-width="0.3">2.0 V vs. Na/Na<tspan dx="1.8" dy="-9.5" font-size="15.5">+</tspan></text>
<text x="330.5" y="1035.5" font-size="22.7" text-anchor="start" stroke="#111" stroke-width="0.3">2.0 -0.5 V</text>
<text x="330.5" y="1138" font-size="22.7" text-anchor="start" stroke="#111" stroke-width="0.3">2.0 -1.3 V</text>
<text x="440" y="1122.7" font-size="21.5" stroke="#111" stroke-width="0.3">Fe<tspan dy="6.4" font-size="17">7</tspan><tspan dy="-6.4">Se</tspan><tspan dy="6.4" font-size="17">8</tspan></text>
</g>
<path d="M325.5 1082.0 327.5 1081.1 329.5 1079.5 331.5 1077.9 333.5 1077.0 335.5 1076.5 337.5 1074.6 339.5 1071.7 341.5 1068.3 343.5 1065.4 345.5 1063.5 347.5 1063.0 349.5 1061.8 351.5 1059.8 353.5 1057.7 355.5 1056.5 357.5 1056.5 359.5 1056.5 361.5 1056.4 363.5 1056.4 365.5 1056.3 367.5 1056.3 369.5 1056.2 371.5 1056.1 373.5 1056.0 375.5 1055.9 377.5 1055.8 379.5 1055.7 381.5 1055.7 383.5 1055.6 385.5 1055.6 387.5 1055.5 389.5 1055.5 391.5 1055.5 393.5 1055.5 395.5 1055.6 397.5 1055.8 399.5 1056.0 401.5 1056.3 403.5 1056.6 405.5 1056.9 407.5 1057.3 409.5 1057.7 411.5 1058.1 413.5 1058.5 415.5 1058.9 417.5 1059.3 419.5 1059.7 421.5 1060.1 423.5 1060.4 425.5 1060.7 427.5 1061.0 429.5 1061.2 431.5 1061.4 433.5 1061.5 435.5 1061.5 437.5 1061.5 439.5 1061.6 441.5 1061.8 443.5 1062.0 445.5 1062.3 447.5 1062.6 449.5 1063.0 451.5 1063.4 453.5 1063.8 455.5 1064.2 457.5 1064.6 459.5 1065.0 461.5 1065.4 463.5 1065.7 465.5 1066.0 467.5 1066.2 469.5 1066.4 471.5 1066.5 473.5 1066.5 475.5 1066.5 477.5 1066.6 479.5 1066.7 481.5 1066.9 483.5 1067.1 485.5 1067.3 487.5 1067.5 489.5 1067.8 491.5 1068.0 493.5 1068.2 495.5 1068.4 497.5 1068.6 499.5 1068.8 501.5 1068.9 503.5 1069.0 505.5 1069.0" stroke="#000" stroke-width="5" fill="none"/>
<path d="M325.5 1080.9 325.6 1084.0 325.8 1078.2 325.9 1081.0 326.1 1086.0 326.2 1082.8 326.3 1075.1 326.5 1085.1 326.6 1074.8 326.8 1074.6 326.9 1082.7 327.0 1081.2 327.2 1082.5 327.3 1082.8 327.5 1083.4 327.6 1085.8 327.7 1079.6 327.9 1080.4 328.0 1078.9 328.2 1076.8 328.3 1077.3 328.4 1081.4 328.6 1080.5 328.7 1085.4 328.9 1079.6 329.0 1076.7 329.1 1074.0 329.3 1083.0 329.4 1085.3 329.6 1080.9 329.7 1081.8 329.8 1076.8 330.0 1075.2 330.1 1076.8 330.3 1073.0 330.4 1079.7 330.5 1071.0 330.7 1068.4 330.8 1071.7 331.0 1082.2 331.1 1079.2 331.2 1079.8 331.4 1080.0 331.5 1080.1 331.7 1081.6 331.8 1079.8 331.9 1081.0 332.1 1070.3 332.2 1072.2 332.4 1083.8 332.5 1078.6 332.6 1079.9 332.8 1073.3 332.9 1075.5 333.1 1073.6 333.2 1080.9 333.3 1071.5 333.5 1076.5 333.6 1082.6 333.8 1072.9 333.9 1073.9 334.0 1079.5 334.2 1078.4 334.3 1077.5 334.5 1075.9 334.6 1078.0 334.7 1081.5 334.9 1079.1 335.0 1075.1 335.2 1075.2 335.3 1075.3 335.4 1078.1 335.6 1072.0 335.7 1077.4 335.9 1074.6 336.0 1078.8 336.1 1085.8 336.3 1077.4 336.4 1074.9 336.6 1075.5 336.7 1079.6 336.8 1070.7 337.0 1078.7 337.1 1081.1 337.3 1073.6 337.4 1077.3 337.5 1078.9 337.7 1068.6 337.8 1074.9 338.0 1081.2 338.1 1077.0 338.2 1074.2 338.4 1077.6 338.5 1072.0 338.7 1076.7 338.8 1071.7 338.9 1073.5 339.1 1074.9 339.2 1074.6 339.4 1068.1 339.5 1076.7 339.6 1074.4 339.8 1071.2 339.9 1066.4 340.1 1067.2 340.2 1076.7 340.3 1062.4 340.5 1075.7 340.6 1071.4 340.8 1071.2 340.9 1073.9 341.0 1075.0 341.2 1065.9 341.3 1074.7 341.5 1074.1 341.6 1067.1 341.7 1060.5 341.9 1071.0 342.0 1067.4 342.2 1070.6 342.3 1066.8 342.4 1071.0 342.6 1063.9 342.7 1069.9 342.9 1058.4 343.0 1070.3 343.1 1065.1 343.3 1065.5 343.4 1072.6 343.6 1065.5 343.7 1064.3 343.8 1059.9 344.0 1058.2 344.1 1062.2 344.3 1064.5 344.4 1067.6 344.5 1057.9 344.7 1061.5 344.8 1060.3 345.0 1060.7 345.1 1059.0 345.2 1065.1 345.4 1061.0 345.5 1055.7 345.7 1054.4 345.8 1059.8 345.9 1066.3 346.1 1066.2 346.2 1068.5 346.4 1065.7 346.5 1066.6 346.6 1068.3 346.8 1070.8 346.9 1056.0 347.1 1059.3 347.2 1065.8 347.3 1065.2 347.5 1066.6 347.6 1064.1 347.8 1067.8 347.9 1056.7 348.0 1061.4 348.2 1059.3 348.3 1059.3 348.5 1065.1 348.6 1052.1 348.7 1069.2 348.9 1064.0 349.0 1054.4 349.2 1066.3 349.3 1067.3 349.4 1069.1 349.6 1062.9 349.7 1062.4 349.9 1070.0 350.0 1065.5 350.1 1068.0 350.3 1065.0 350.4 1057.5 350.6 1061.8 350.7 1060.4 350.8 1062.6 351.0 1062.2 351.1 1061.7 351.3 1058.7 351.4 1063.0 351.5 1057.2 351.7 1059.5 351.8 1059.4 352.0 1059.9 352.1 1060.8 352.2 1063.1 352.4 1060.6 352.5 1054.8 352.7 1054.7 352.8 1061.3 352.9 1054.0 353.1 1064.4 353.2 1054.9 353.4 1059.9 353.5 1063.6 353.6 1060.4 353.8 1064.0 353.9 1061.2 354.1 1056.6 354.2 1060.0 354.3 1059.4 354.5 1060.6 354.6 1061.8 354.8 1055.9 354.9 1054.7 355.0 1060.2 355.2 1052.0 355.3 1057.3 355.5 1059.7 355.6 1056.6 355.7 1057.3 355.9 1056.7 356.0 1052.3 356.2 1054.0 356.3 1054.8 356.4 1048.5 356.6 1058.8 356.7 1056.3 356.9 1063.8 357.0 1058.6 357.1 1055.8 357.3 1049.2 357.4 1048.9 357.6 1056.3 357.7 1049.2 357.8 1052.2 358.0 1056.6 358.1 1057.5 358.3 1062.5 358.4 1061.1 358.5 1052.2 358.7 1050.0 358.8 1058.4 359.0 1050.1 359.1 1055.7 359.2 1055.2 359.4 1059.3 359.5 1057.9 359.7 1055.8 359.8 1045.6 359.9 1050.5 360.1 1057.3 360.2 1055.5 360.4 1055.2 360.5 1056.3 360.6 1051.3 360.8 1059.4 360.9 1057.6 361.1 1055.0 361.2 1053.5 361.3 1054.5 361.5 1056.9 361.6 1070.4 361.8 1055.1 361.9 1060.9 362.0 1046.9 362.2 1058.8 362.3 1065.8 362.5 1059.5 362.6 1060.2 362.7 1058.4 362.9 1052.1 363.0 1057.4 363.2 1069.1 363.3 1061.0 363.4 1056.5 363.6 1058.7 363.7 1059.2 363.9 1063.0 364.0 1056.4 364.1 1062.0 364.3 1053.5 364.4 1053.6 364.6 1059.2 364.7 1053.6 364.8 1059.6 365.0 1062.4 365.1 1060.9 365.3 1056.4 365.4 1059.5 365.5 1049.3 365.7 1063.5 365.8 1050.3 366.0 1049.8 366.1 1056.1 366.2 1055.1 366.4 1056.4 366.5 1050.5 366.7 1058.2 366.8 1055.4 366.9 1054.3 367.1 1062.5 367.2 1054.4 367.4 1053.5 367.5 1057.4 367.6 1058.3 367.8 1053.4 367.9 1056.3 368.1 1054.1 368.2 1056.9 368.3 1055.3 368.5 1057.7 368.6 1048.6 368.8 1052.7 368.9 1052.0 369.0 1058.7 369.2 1059.2 369.3 1057.4 369.5 1050.5 369.6 1056.1 369.7 1055.8 369.9 1059.2 370.0 1063.6 370.2 1052.8 370.3 1062.3 370.4 1057.4 370.6 1056.1 370.7 1056.1 370.9 1059.7 371.0 1049.1 371.1 1057.9 371.3 1057.6 371.4 1062.1 371.6 1053.8 371.7 1048.8 371.8 1057.4 372.0 1057.1 372.1 1065.0 372.3 1058.2 372.4 1058.2 372.5 1057.2 372.7 1057.0 372.8 1053.9 373.0 1058.8 373.1 1054.6 373.2 1060.2 373.4 1059.4 373.5 1053.0 373.7 1062.0 373.8 1053.7 373.9 1050.0 374.1 1056.0 374.2 1051.4 374.4 1044.1 374.5 1053.8 374.6 1059.5 374.8 1057.9 374.9 1049.7 375.1 1059.3 375.2 1055.3 375.3 1057.1 375.5 1062.6 375.6 1053.3 375.8 1056.0 375.9 1050.9 376.0 1047.5 376.2 1058.4 376.3 1066.4 376.5 1059.6 376.6 1057.3 376.7 1054.4 376.9 1042.1 377.0 1059.5 377.2 1068.8 377.3 1053.8 377.4 1052.5 377.6 1056.0 377.7 1056.1 377.9 1057.8 378.0 1055.2 378.1 1051.2 378.3 1061.6 378.4 1060.1 378.6 1057.2 378.7 1057.1 378.8 1061.1 379.0 1049.6 379.1 1059.6 379.3 1057.2 379.4 1056.1 379.5 1055.6 379.7 1047.2 379.8 1061.1 380.0 1054.3 380.1 1053.8 380.2 1058.7 380.4 1060.6 380.5 1051.4 380.7 1056.2 380.8 1060.2 380.9 1053.4 381.1 1057.7 381.2 1058.0 381.4 1054.6 381.5 1058.7 381.6 1049.5 381.8 1054.1 381.9 1059.1 382.1 1057.8 382.2 1062.0 382.3 1060.6 382.5 1056.7 382.6 1064.5 382.8 1047.7 382.9 1059.5 383.0 1058.3 383.2 1056.0 383.3 1059.7 383.5 1055.5 383.6 1047.9 383.7 1057.4 383.9 1052.8 384.0 1055.4 384.2 1052.9 384.3 1060.3 384.4 1062.4 384.6 1045.6 384.7 1063.2 384.9 1057.7 385.0 1050.1 385.1 1048.3 385.3 1056.7 385.4 1058.8 385.6 1056.4 385.7 1060.8 385.8 1054.7 386.0 1058.5 386.1 1052.3 386.3 1057.3 386.4 1054.9 386.5 1056.3 386.7 1059.3 386.8 1055.4 387.0 1060.9 387.1 1059.1 387.2 1055.8 387.4 1054.5 387.5 1058.0 387.7 1057.2 387.8 1056.2 387.9 1054.4 388.1 1054.2 388.2 1052.8 388.4 1057.3 388.5 1053.5 388.6 1060.3 388.8 1064.4 388.9 1045.3 389.1 1055.0 389.2 1052.8 389.3 1048.9 389.5 1058.9 389.6 1052.0 389.8 1056.1 389.9 1049.9 390.0 1048.7 390.2 1052.2 390.3 1058.9 390.5 1046.5 390.6 1054.3 390.7 1059.0 390.9 1045.7 391.0 1065.7 391.2 1051.7 391.3 1059.0 391.4 1053.7 391.6 1056.6 391.7 1053.4 391.9 1049.1 392.0 1059.9 392.1 1056.3 392.3 1059.5 392.4 1057.7 392.6 1057.6 392.7 1060.5 392.8 1057.5 393.0 1056.6 393.1 1053.8 393.3 1053.1 393.4 1053.1 393.5 1050.3 393.7 1058.2 393.8 1061.1 394.0 1056.4 394.1 1056.2 394.2 1048.6 394.4 1053.7 394.5 1055.9 394.7 1059.2 394.8 1058.0 394.9 1054.5 395.1 1054.4 395.2 1054.3 395.4 1055.5 395.5 1057.7 395.6 1055.0 395.8 1054.8 395.9 1048.4 396.1 1045.7 396.2 1056.2 396.3 1057.9 396.5 1046.7 396.6 1055.8 396.8 1053.4 396.9 1056.6 397.0 1053.7 397.2 1056.6 397.3 1058.8 397.5 1058.3 397.6 1056.4 397.7 1052.2 397.9 1048.2 398.0 1059.5 398.2 1059.1 398.3 1059.4 398.4 1052.2 398.6 1065.9 398.7 1063.6 398.9 1056.9 399.0 1053.0 399.1 1051.6 399.3 1061.2 399.4 1056.0 399.6 1054.8 399.7 1048.7 399.8 1047.2 400.0 1055.9 400.1 1056.3 400.3 1052.9 400.4 1053.3 400.5 1058.1 400.7 1059.3 400.8 1059.9 401.0 1056.3 401.1 1057.1 401.2 1061.5 401.4 1053.0 401.5 1053.1 401.7 1056.4 401.8 1058.6 401.9 1061.2 402.1 1051.3 402.2 1062.1 402.4 1056.8 402.5 1053.8 402.6 1053.0 402.8 1056.5 402.9 1065.1 403.1 1054.1 403.2 1058.2 403.3 1061.6 403.5 1057.0 403.6 1058.3 403.8 1061.8 403.9 1057.6 404.0 1054.4 404.2 1064.7 404.3 1059.2 404.5 1064.4 404.6 1057.1 404.7 1056.6 404.9 1052.4 405.0 1057.0 405.2 1058.0 405.3 1054.3 405.4 1049.6 405.6 1052.9 405.7 1055.5 405.9 1056.4 406.0 1062.7 406.1 1057.5 406.3 1056.6 406.4 1056.7 406.6 1047.5 406.7 1059.7 406.8 1054.7 407.0 1053.0 407.1 1052.7 407.3 1049.7 407.4 1058.7 407.5 1051.4 407.7 1059.8 407.8 1058.7 408.0 1062.8 408.1 1058.0 408.2 1058.2 408.4 1055.6 408.5 1059.3 408.7 1055.5 408.8 1052.2 408.9 1062.5 409.1 1059.7 409.2 1061.2 409.4 1050.0 409.5 1065.9 409.6 1052.8 409.8 1058.5 409.9 1058.4 410.1 1052.8 410.2 1052.2 410.3 1059.3 410.5 1058.9 410.6 1055.2 410.8 1061.7 410.9 1056.7 411.0 1064.2 411.2 1062.6 411.3 1057.0 411.5 1062.1 411.6 1058.9 411.7 1054.6 411.9 1063.3 412.0 1059.3 412.2 1056.9 412.3 1060.9 412.4 1058.3 412.6 1063.0 412.7 1058.5 412.9 1060.2 413.0 1062.7 413.1 1057.8 413.3 1068.0 413.4 1057.0 413.6 1054.0 413.7 1064.7 413.8 1062.0 414.0 1056.0 414.1 1055.9 414.3 1060.0 414.4 1057.1 414.5 1059.6 414.7 1061.8 414.8 1052.7 415.0 1064.5 415.1 1052.3 415.2 1057.5 415.4 1056.8 415.5 1061.8 415.7 1055.5 415.8 1053.4 415.9 1059.8 416.1 1053.8 416.2 1061.3 416.4 1057.1 416.5 1056.9 416.6 1051.8 416.8 1059.2 416.9 1062.8 417.1 1058.0 417.2 1061.6 417.3 1067.5 417.5 1065.4 417.6 1066.4 417.8 1058.7 417.9 1061.3 418.0 1064.8 418.2 1058.7 418.3 1060.2 418.5 1057.9 418.6 1055.1 418.7 1063.0 418.9 1063.8 419.0 1063.2 419.2 1057.3 419.3 1057.1 419.4 1061.1 419.6 1060.7 419.7 1053.6 419.9 1057.0 420.0 1056.4 420.1 1063.2 420.3 1062.3 420.4 1057.8 420.6 1057.7 420.7 1057.0 420.8 1057.1 421.0 1062.4 421.1 1065.3 421.3 1043.8 421.4 1060.8 421.5 1063.8 421.7 1066.0 421.8 1064.4 422.0 1063.3 422.1 1054.5 422.2 1059.8 422.4 1052.0 422.5 1065.5 422.7 1055.0 422.8 1064.6 422.9 1059.5 423.1 1061.4 423.2 1064.5 423.4 1060.8 423.5 1058.5 423.6 1063.0 423.8 1065.0 423.9 1058.7 424.1 1058.4 424.2 1062.3 424.3 1062.6 424.5 1055.3 424.6 1062.2 424.8 1070.8 424.9 1063.7 425.0 1054.0 425.2 1058.7 425.3 1060.1 425.5 1062.6 425.6 1058.2 425.7 1057.3 425.9 1061.9 426.0 1060.2 426.2 1063.8 426.3 1055.7 426.4 1063.3 426.6 1068.0 426.7 1057.5 426.9 1066.7 427.0 1057.0 427.1 1060.2 427.3 1060.4 427.4 1059.3 427.6 1058.5 427.7 1061.7 427.8 1067.9 428.0 1066.9 428.1 1057.0 428.3 1055.7 428.4 1056.7 428.5 1062.9 428.7 1053.7 428.8 1054.7 429.0 1059.9 429.1 1058.2 429.2 1060.1 429.4 1059.8 429.5 1061.3 429.7 1056.5 429.8 1061.5 429.9 1068.9 430.1 1061.6 430.2 1057.4 430.4 1054.7 430.5 1062.8 430.6 1060.9 430.8 1066.7 430.9 1062.3 431.1 1055.8 431.2 1071.2 431.3 1062.2 431.5 1060.7 431.6 1057.2 431.8 1068.1 431.9 1054.6 432.0 1060.3 432.2 1056.9 432.3 1063.8 432.5 1063.3 432.6 1057.8 432.7 1050.6 432.9 1061.0 433.0 1059.7 433.2 1064.5 433.3 1056.8 433.4 1056.2 433.6 1065.2 433.7 1058.2 433.9 1064.1 434.0 1061.6 434.1 1057.6 434.3 1055.6 434.4 1057.3 434.6 1057.7 434.7 1060.3 434.8 1059.0 435.0 1061.6 435.1 1058.7 435.3 1062.9 435.4 1052.7 435.5 1064.6 435.7 1055.2 435.8 1060.2 436.0 1065.5 436.1 1055.6 436.2 1054.3 436.4 1063.5 436.5 1062.0 436.7 1067.2 436.8 1059.4 436.9 1053.6 437.1 1056.4 437.2 1059.9 437.4 1062.5 437.5 1062.1 437.6 1062.1 437.8 1069.0 437.9 1068.7 438.1 1062.1 438.2 1062.1 438.3 1061.3 438.5 1059.0 438.6 1059.8 438.8 1053.9 438.9 1057.2 439.0 1057.0 439.2 1061.3 439.3 1077.1 439.5 1067.4 439.6 1062.2 439.7 1059.2 439.9 1067.6 440.0 1060.2 440.2 1061.8 440.3 1056.1 440.4 1063.9 440.6 1057.9 440.7 1066.1 440.9 1056.4 441.0 1066.3 441.1 1058.7 441.3 1060.4 441.4 1059.6 441.6 1054.6 441.7 1069.3 441.8 1060.7 442.0 1054.3 442.1 1065.5 442.3 1055.0 442.4 1056.8 442.5 1065.0 442.7 1061.9 442.8 1065.3 443.0 1054.3 443.1 1065.0 443.2 1054.5 443.4 1066.3 443.5 1056.2 443.7 1061.0 443.8 1063.4 443.9 1064.1 444.1 1068.4 444.2 1057.4 444.4 1058.4 444.5 1061.9 444.6 1068.8 444.8 1068.3 444.9 1066.0 445.1 1054.7 445.2 1058.1 445.3 1057.0 445.5 1063.0 445.6 1064.9 445.8 1067.9 445.9 1058.4 446.0 1065.1 446.2 1066.2 446.3 1062.3 446.5 1063.0 446.6 1060.2 446.7 1061.3 446.9 1062.4 447.0 1065.6 447.2 1059.1 447.3 1063.3 447.4 1058.4 447.6 1066.9 447.7 1048.6 447.9 1063.4 448.0 1065.1 448.1 1055.1 448.3 1059.9 448.4 1064.0 448.6 1062.0 448.7 1070.2 448.8 1069.8 449.0 1056.5 449.1 1055.2 449.3 1060.7 449.4 1063.7 449.5 1063.2 449.7 1064.1 449.8 1070.1 450.0 1058.1 450.1 1064.5 450.2 1057.0 450.4 1065.2 450.5 1063.9 450.7 1061.7 450.8 1060.2 450.9 1066.0 451.1 1065.5 451.2 1060.9 451.4 1063.6 451.5 1063.1 451.6 1062.8 451.8 1072.4 451.9 1065.5 452.1 1069.1 452.2 1057.3 452.3 1071.1 452.5 1068.8 452.6 1060.1 452.8 1064.7 452.9 1062.1 453.0 1062.1 453.2 1062.6 453.3 1058.8 453.5 1063.4 453.6 1067.9 453.7 1065.8 453.9 1060.8 454.0 1060.3 454.2 1071.8 454.3 1071.9 454.4 1067.0 454.6 1060.8 454.7 1064.5 454.9 1056.0 455.0 1073.4 455.1 1066.8 455.3 1066.1 455.4 1063.7 455.6 1059.3 455.7 1065.5 455.8 1059.2 456.0 1066.7 456.1 1060.1 456.3 1066.8 456.4 1062.9 456.5 1067.3 456.7 1070.7 456.8 1066.0 457.0 1065.3 457.1 1064.1 457.2 1067.3 457.4 1066.6 457.5 1059.7 457.7 1064.2 457.8 1060.6 457.9 1066.1 458.1 1061.4 458.2 1064.1 458.4 1064.8 458.5 1067.0 458.6 1062.6 458.8 1063.3 458.9 1066.7 459.1 1069.8 459.2 1065.1 459.3 1069.6 459.5 1069.4 459.6 1062.3 459.8 1070.8 459.9 1072.6 460.0 1068.2 460.2 1060.3 460.3 1064.6 460.5 1068.0 460.6 1064.7 460.7 1065.2 460.9 1072.7 461.0 1064.1 461.2 1062.8 461.3 1061.0 461.4 1063.1 461.6 1069.8 461.7 1060.8 461.9 1060.8 462.0 1065.7 462.1 1063.7 462.3 1066.7 462.4 1068.7 462.6 1069.7 462.7 1069.9 462.8 1057.3 463.0 1068.3 463.1 1061.5 463.3 1066.3 463.4 1062.1 463.5 1055.4 463.7 1070.2 463.8 1068.9 464.0 1058.7 464.1 1074.8 464.2 1063.4 464.4 1063.3 464.5 1063.1 464.7 1059.4 464.8 1067.9 464.9 1072.7 465.1 1064.6 465.2 1069.0 465.4 1054.4 465.5 1064.0 465.6 1063.6 465.8 1057.3 465.9 1063.7 466.1 1061.8 466.2 1065.6 466.3 1064.1 466.5 1071.6 466.6 1070.8 466.8 1064.8 466.9 1064.0 467.0 1065.7 467.2 1065.1 467.3 1070.1 467.5 1070.5 467.6 1068.9 467.7 1061.0 467.9 1063.8 468.0 1061.4 468.2 1067.5 468.3 1065.2 468.4 1069.1 468.6 1060.4 468.7 1069.9 468.9 1068.3 469.0 1064.1 469.1 1063.8 469.3 1077.9 469.4 1067.2 469.6 1067.6 469.7 1070.1 469.8 1067.9 470.0 1068.6 470.1 1068.2 470.3 1068.5 470.4 1069.4 470.5 1060.6 470.7 1061.3 470.8 1066.0 471.0 1059.9 471.1 1067.8 471.2 1060.3 471.4 1066.7 471.5 1066.2 471.7 1056.2 471.8 1066.6 471.9 1068.2 472.1 1058.6 472.2 1062.3 472.4 1067.8 472.5 1062.6 472.6 1069.7 472.8 1068.3 472.9 1058.9 473.1 1067.9 473.2 1069.6 473.3 1065.0 473.5 1065.7 473.6 1070.7 473.8 1060.1 473.9 1054.7 474.0 1070.4 474.2 1062.2 474.3 1064.6 474.5 1052.6 474.6 1063.1 474.7 1064.9 474.9 1062.9 475.0 1060.8 475.2 1074.4 475.3 1069.7 475.4 1068.8 475.6 1059.2 475.7 1062.8 475.9 1061.3 476.0 1068.6 476.1 1059.3 476.3 1065.2 476.4 1074.0 476.6 1065.6 476.7 1071.4 476.8 1062.8 477.0 1069.8 477.1 1063.9 477.3 1061.9 477.4 1066.3 477.5 1062.9 477.7 1062.7 477.8 1065.9 478.0 1065.7 478.1 1063.4 478.2 1072.4 478.4 1069.6 478.5 1062.2 478.7 1061.6 478.8 1066.8 478.9 1053.3 479.1 1064.0 479.2 1068.4 479.4 1068.3 479.5 1068.7 479.6 1068.2 479.8 1061.3 479.9 1059.7 480.1 1067.2 480.2 1063.3 480.3 1068.3 480.5 1069.6 480.6 1063.6 480.8 1065.0 480.9 1074.8 481.0 1069.7 481.2 1061.7 481.3 1068.9 481.5 1074.0 481.6 1063.6 481.7 1068.3 481.9 1063.8 482.0 1057.2 482.2 1067.2 482.3 1066.4 482.4 1064.2 482.6 1059.9 482.7 1067.7 482.9 1065.4 483.0 1069.0 483.1 1065.2 483.3 1066.3 483.4 1065.9 483.6 1067.9 483.7 1065.3 483.8 1069.5 484.0 1067.2 484.1 1068.2 484.3 1070.6 484.4 1072.4 484.5 1068.2 484.7 1065.4 484.8 1068.0 485.0 1065.0 485.1 1060.0 485.2 1074.3 485.4 1064.4 485.5 1067.2 485.7 1066.5 485.8 1064.3 485.9 1065.3 486.1 1069.6 486.2 1068.8 486.4 1065.9 486.5 1066.5 486.6 1074.2 486.8 1064.3 486.9 1066.0 487.1 1070.9 487.2 1074.5 487.3 1071.5 487.5 1070.8 487.6 1067.1 487.8 1069.0 487.9 1072.0 488.0 1072.1 488.2 1073.4 488.3 1063.9 488.5 1070.9 488.6 1070.0 488.7 1065.7 488.9 1064.5 489.0 1066.7 489.2 1064.8 489.3 1066.0 489.4 1065.9 489.6 1067.1 489.7 1058.3 489.9 1069.2 490.0 1070.1 490.1 1071.2 490.3 1068.7 490.4 1070.6 490.6 1063.5 490.7 1062.3 490.8 1071.5 491.0 1071.4 491.1 1062.0 491.3 1071.3 491.4 1063.6 491.5 1073.4 491.7 1072.6 491.8 1068.0 492.0 1066.3 492.1 1067.9 492.2 1060.6 492.4 1072.1 492.5 1066.7 492.7 1067.6 492.8 1060.6 492.9 1074.0 493.1 1070.2 493.2 1070.1 493.4 1067.3 493.5 1066.1 493.6 1061.3 493.8 1073.8 493.9 1067.2 494.1 1071.8 494.2 1069.7 494.3 1067.5 494.5 1070.3 494.6 1068.6 494.8 1071.3 494.9 1071.8 495.0 1066.9 495.2 1071.6 495.3 1072.4 495.5 1062.0 495.6 1066.4 495.7 1064.8 495.9 1065.9 496.0 1071.0 496.2 1070.7 496.3 1071.5 496.4 1069.7 496.6 1066.7 496.7 1069.2 496.9 1067.0 497.0 1071.3 497.1 1075.2 497.3 1068.3 497.4 1073.7 497.6 1068.0 497.7 1066.3 497.8 1070.2 498.0 1073.7 498.1 1065.9 498.3 1066.9 498.4 1066.2 498.5 1075.5 498.7 1069.9 498.8 1071.0 499.0 1074.0 499.1 1072.2 499.2 1074.9 499.4 1067.6 499.5 1071.0 499.7 1065.3 499.8 1072.5 499.9 1068.9 500.1 1070.0 500.2 1071.5 500.4 1063.2 500.5 1064.1 500.6 1069.0 500.8 1067.4 500.9 1068.1 501.1 1058.9 501.2 1074.4 501.3 1066.5 501.5 1070.3 501.6 1073.1 501.8 1062.3 501.9 1067.7 502.0 1074.7 502.2 1066.6 502.3 1072.6 502.5 1070.9 502.6 1067.6 502.7 1065.5 502.9 1067.5 503.0 1067.0 503.2 1072.9 503.3 1076.1 503.4 1060.9 503.6 1069.5 503.7 1067.7 503.9 1067.5 504.0 1074.0 504.1 1067.0 504.3 1066.3 504.4 1071.5 504.6 1069.4 504.7 1074.0 504.8 1072.0 505.0 1064.7 505.1 1071.5 505.3 1070.9 505.4 1070.7 505.5 1075.1 505.7 1074.2 505.8 1066.0 506.0 1068.4" stroke="#000" stroke-width="0.9" fill="none"/>
<path d="M325.5 1169.0 327.5 1168.5 329.5 1167.6 331.5 1166.2 333.5 1164.8 335.5 1163.4 337.5 1162.5 339.5 1162.0 341.5 1161.8 343.5 1161.1 345.5 1160.0 347.5 1158.6 349.5 1157.1 351.5 1155.8 353.5 1154.8 355.5 1154.4 357.5 1154.4 359.5 1154.3 361.5 1154.1 363.5 1153.9 365.5 1153.6 367.5 1153.3 369.5 1152.9 371.5 1152.5 373.5 1152.1 375.5 1151.6 377.5 1151.1 379.5 1150.6 381.5 1150.2 383.5 1149.7 385.5 1149.3 387.5 1148.9 389.5 1148.5 391.5 1148.2 393.5 1148.0 395.5 1147.8 397.5 1147.7 399.5 1147.6 401.5 1147.6 403.5 1147.6 405.5 1147.5 407.5 1147.5 409.5 1147.4 411.5 1147.3 413.5 1147.2 415.5 1147.1 417.5 1147.0 419.5 1146.8 421.5 1146.7 423.5 1146.5 425.5 1146.4 427.5 1146.2 429.5 1146.1 431.5 1145.9 433.5 1145.8 435.5 1145.6 437.5 1145.5 439.5 1145.4 441.5 1145.3 443.5 1145.2 445.5 1145.1 447.5 1145.1 449.5 1145.0 451.5 1145.0 453.5 1145.0 455.5 1145.2 457.5 1145.4 459.5 1145.5 461.5 1146.5 463.5 1148.2 465.5 1150.0 467.5 1151.0 469.5 1151.1 471.5 1151.5 473.5 1151.9 475.5 1152.0 477.5 1152.0 479.5 1152.0 481.5 1152.0 483.5 1152.0 485.5 1152.0 487.5 1152.0 489.5 1152.0 491.5 1152.0 493.5 1152.0 495.5 1152.0 497.5 1152.0 499.5 1152.0 501.5 1152.0 503.5 1152.0 505.5 1152.0" stroke="#000" stroke-width="3.5" fill="none"/>
<path d="M325.5 1169.7 325.6 1173.5 325.8 1167.7 325.9 1168.2 326.1 1162.4 326.2 1171.5 326.3 1168.9 326.5 1167.1 326.6 1174.1 326.8 1172.7 326.9 1173.1 327.0 1167.6 327.2 1168.8 327.3 1167.4 327.5 1173.2 327.6 1168.9 327.7 1167.5 327.9 1164.8 328.0 1171.4 328.2 1165.0 328.3 1171.0 328.4 1173.2 328.6 1165.3 328.7 1162.1 328.9 1167.2 329.0 1159.4 329.1 1166.5 329.3 1166.7 329.4 1173.7 329.6 1172.7 329.7 1168.8 329.8 1170.9 330.0 1167.8 330.1 1167.6 330.3 1168.8 330.4 1171.1 330.5 1165.5 330.7 1168.1 330.8 1164.3 331.0 1157.7 331.1 1165.4 331.2 1168.1 331.4 1166.6 331.5 1165.3 331.7 1164.6 331.8 1162.9 331.9 1167.9 332.1 1162.9 332.2 1168.5 332.4 1167.0 332.5 1164.6 332.6 1164.8 332.8 1160.8 332.9 1166.1 333.1 1169.7 333.2 1165.2 333.3 1155.0 333.5 1167.4 333.6 1163.4 333.8 1162.1 333.9 1164.1 334.0 1168.9 334.2 1165.2 334.3 1164.2 334.5 1168.3 334.6 1159.7 334.7 1162.1 334.9 1166.0 335.0 1168.6 335.2 1161.7 335.3 1163.3 335.4 1159.3 335.6 1160.0 335.7 1162.2 335.9 1158.6 336.0 1172.5 336.1 1163.2 336.3 1165.6 336.4 1170.0 336.6 1163.2 336.7 1160.1 336.8 1161.5 337.0 1161.7 337.1 1165.5 337.3 1165.5 337.4 1161.3 337.5 1164.4 337.7 1163.5 337.8 1158.6 338.0 1167.0 338.1 1165.9 338.2 1163.9 338.4 1162.2 338.5 1162.9 338.7 1161.4 338.8 1159.8 338.9 1156.5 339.1 1157.9 339.2 1161.1 339.4 1153.1 339.5 1164.6 339.6 1155.4 339.8 1163.6 339.9 1166.0 340.1 1164.1 340.2 1160.9 340.3 1159.9 340.5 1159.1 340.6 1165.4 340.8 1163.2 340.9 1159.9 341.0 1165.4 341.2 1161.3 341.3 1162.0 341.5 1163.0 341.6 1161.7 341.7 1161.0 341.9 1163.1 342.0 1161.9 342.2 1160.2 342.3 1157.1 342.4 1160.5 342.6 1159.0 342.7 1159.6 342.9 1160.0 343.0 1155.6 343.1 1162.7 343.3 1151.7 343.4 1152.9 343.6 1159.3 343.7 1156.0 343.8 1161.7 344.0 1163.4 344.1 1160.7 344.3 1162.6 344.4 1161.0 344.5 1158.5 344.7 1159.8 344.8 1161.7 345.0 1162.1 345.1 1160.7 345.2 1160.9 345.4 1164.2 345.5 1159.5 345.7 1161.1 345.8 1156.1 345.9 1164.1 346.1 1163.2 346.2 1153.8 346.4 1163.4 346.5 1152.7 346.6 1163.4 346.8 1159.5 346.9 1161.6 347.1 1159.2 347.2 1161.1 347.3 1155.3 347.5 1169.3 347.6 1162.3 347.8 1164.2 347.9 1158.3 348.0 1151.7 348.2 1150.7 348.3 1158.6 348.5 1154.7 348.6 1155.5 348.7 1159.5 348.9 1164.6 349.0 1158.9 349.2 1155.7 349.3 1157.0 349.4 1157.9 349.6 1164.7 349.7 1157.4 349.9 1158.6 350.0 1158.0 350.1 1152.5 350.3 1163.2 350.4 1157.4 350.6 1156.3 350.7 1155.9 350.8 1155.3 351.0 1153.9 351.1 1156.7 351.3 1153.0 351.4 1162.4 351.5 1158.2 351.7 1158.5 351.8 1159.0 352.0 1160.1 352.1 1153.0 352.2 1158.7 352.4 1157.3 352.5 1164.2 352.7 1154.9 352.8 1157.3 352.9 1159.1 353.1 1156.1 353.2 1154.6 353.4 1155.3 353.5 1150.6 353.6 1153.6 353.8 1158.7 353.9 1150.8 354.1 1146.5 354.2 1159.2 354.3 1153.0 354.5 1156.1 354.6 1148.3 354.8 1149.5 354.9 1152.6 355.0 1156.3 355.2 1157.8 355.3 1149.3 355.5 1153.4 355.6 1151.5 355.7 1148.8 355.9 1163.0 356.0 1156.9 356.2 1151.1 356.3 1154.9 356.4 1159.3 356.6 1153.6 356.7 1151.0 356.9 1153.0 357.0 1151.6 357.1 1155.2 357.3 1159.1 357.4 1148.9 357.6 1155.3 357.7 1154.7 357.8 1156.3 358.0 1150.1 358.1 1153.7 358.3 1157.4 358.4 1160.1 358.5 1157.8 358.7 1147.8 358.8 1149.5 359.0 1158.8 359.1 1155.8 359.2 1156.5 359.4 1155.7 359.5 1150.3 359.7 1144.8 359.8 1161.5 359.9 1148.1 360.1 1155.1 360.2 1152.8 360.4 1151.2 360.5 1152.0 360.6 1157.7 360.8 1155.6 360.9 1158.5 361.1 1153.6 361.2 1151.4 361.3 1154.9 361.5 1152.8 361.6 1155.2 361.8 1157.6 361.9 1153.4 362.0 1154.8 362.2 1153.4 362.3 1151.2 362.5 1155.3 362.6 1151.0 362.7 1156.0 362.9 1153.0 363.0 1150.4 363.2 1157.7 363.3 1154.1 363.4 1150.5 363.6 1161.1 363.7 1150.5 363.9 1150.1 364.0 1154.8 364.1 1146.6 364.3 1155.0 364.4 1147.3 364.6 1153.3 364.7 1152.9 364.8 1154.3 365.0 1154.4 365.1 1147.7 365.3 1159.4 365.4 1156.7 365.5 1153.7 365.7 1149.1 365.8 1152.6 366.0 1149.7 366.1 1149.5 366.2 1155.8 366.4 1154.9 366.5 1152.1 366.7 1163.9 366.8 1153.8 366.9 1152.4 367.1 1155.9 367.2 1149.7 367.4 1153.1 367.5 1157.5 367.6 1148.6 367.8 1153.6 367.9 1154.3 368.1 1149.3 368.2 1154.1 368.3 1153.9 368.5 1150.9 368.6 1156.0 368.8 1154.0 368.9 1150.2 369.0 1151.8 369.2 1151.6 369.3 1158.3 369.5 1145.1 369.6 1155.2 369.7 1156.4 369.9 1154.2 370.0 1153.7 370.2 1151.8 370.3 1156.7 370.4 1150.6 370.6 1150.3 370.7 1148.0 370.9 1153.7 371.0 1151.0 371.1 1153.9 371.3 1153.5 371.4 1148.1 371.6 1155.1 371.7 1151.7 371.8 1150.6 372.0 1158.8 372.1 1154.1 372.3 1149.7 372.4 1150.8 372.5 1154.9 372.7 1150.6 372.8 1155.2 373.0 1138.2 373.1 1148.5 373.2 1155.6 373.4 1155.4 373.5 1154.2 373.7 1151.3 373.8 1150.4 373.9 1162.3 374.1 1146.5 374.2 1151.1 374.4 1155.0 374.5 1153.2 374.6 1151.1 374.8 1148.2 374.9 1149.2 375.1 1150.7 375.2 1159.0 375.3 1152.4 375.5 1151.2 375.6 1146.9 375.8 1158.5 375.9 1149.6 376.0 1154.8 376.2 1154.1 376.3 1157.0 376.5 1149.9 376.6 1150.8 376.7 1146.5 376.9 1149.1 377.0 1155.4 377.2 1154.1 377.3 1149.1 377.4 1153.8 377.6 1155.1 377.7 1158.4 377.9 1153.8 378.0 1148.1 378.1 1152.2 378.3 1149.7 378.4 1153.8 378.6 1153.5 378.7 1147.5 378.8 1150.7 379.0 1151.3 379.1 1152.5 379.3 1139.7 379.4 1150.6 379.5 1144.4 379.7 1151.0 379.8 1151.3 380.0 1156.3 380.1 1153.9 380.2 1151.1 380.4 1151.6 380.5 1149.5 380.7 1145.3 380.8 1146.9 380.9 1150.4 381.1 1155.0 381.2 1146.3 381.4 1146.6 381.5 1151.6 381.6 1144.7 381.8 1153.4 381.9 1148.7 382.1 1150.2 382.2 1155.7 382.3 1148.9 382.5 1151.5 382.6 1145.2 382.8 1158.2 382.9 1145.8 383.0 1150.3 383.2 1149.8 383.3 1144.8 383.5 1153.2 383.6 1144.6 383.7 1148.4 383.9 1151.3 384.0 1149.5 384.2 1147.7 384.3 1154.3 384.4 1146.2 384.6 1146.3 384.7 1147.4 384.9 1151.4 385.0 1147.2 385.1 1151.0 385.3 1148.7 385.4 1149.2 385.6 1155.9 385.7 1146.7 385.8 1149.9 386.0 1147.0 386.1 1144.1 386.3 1150.5 386.4 1144.0 386.5 1147.8 386.7 1149.9 386.8 1146.5 387.0 1152.9 387.1 1155.0 387.2 1149.0 387.4 1150.3 387.5 1145.5 387.7 1147.6 387.8 1150.9 387.9 1146.7 388.1 1146.8 388.2 1147.6 388.4 1145.1 388.5 1152.5 388.6 1152.3 388.8 1149.8 388.9 1151.2 389.1 1149.8 389.2 1155.8 389.3 1145.3 389.5 1151.1 389.6 1150.8 389.8 1148.3 389.9 1148.4 390.0 1148.4 390.2 1142.3 390.3 1150.2 390.5 1151.9 390.6 1151.0 390.7 1142.6 390.9 1153.9 391.0 1152.6 391.2 1150.5 391.3 1144.9 391.4 1152.1 391.6 1143.0 391.7 1147.4 391.9 1141.9 392.0 1155.4 392.1 1146.3 392.3 1144.0 392.4 1152.5 392.6 1142.7 392.7 1147.2 392.8 1149.7 393.0 1150.9 393.1 1151.7 393.3 1143.5 393.4 1151.6 393.5 1148.2 393.7 1145.0 393.8 1152.9 394.0 1147.2 394.1 1141.3 394.2 1154.0 394.4 1147.5 394.5 1149.9 394.7 1148.7 394.8 1144.7 394.9 1149.3 395.1 1146.4 395.2 1147.4 395.4 1148.9 395.5 1156.5 395.6 1145.9 395.8 1149.9 395.9 1146.9 396.1 1149.8 396.2 1149.4 396.3 1150.4 396.5 1147.1 396.6 1141.4 396.8 1149.7 396.9 1146.9 397.0 1149.5 397.2 1142.8 397.3 1145.8 397.5 1142.6 397.6 1153.6 397.7 1145.8 397.9 1145.7 398.0 1149.7 398.2 1143.6 398.3 1147.4 398.4 1150.2 398.6 1147.7 398.7 1142.3 398.9 1149.9 399.0 1149.5 399.1 1144.0 399.3 1143.6 399.4 1153.0 399.6 1145.5 399.7 1148.7 399.8 1144.6 400.0 1143.4 400.1 1146.8 400.3 1149.7 400.4 1150.0 400.5 1140.8 400.7 1147.5 400.8 1143.8 401.0 1150.2 401.1 1149.2 401.2 1141.1 401.4 1147.7 401.5 1143.5 401.7 1147.3 401.8 1141.1 401.9 1151.3 402.1 1151.6 402.2 1147.4 402.4 1148.9 402.5 1147.2 402.6 1150.0 402.8 1143.3 402.9 1139.1 403.1 1147.2 403.2 1146.3 403.3 1152.5 403.5 1147.7 403.6 1151.1 403.8 1148.9 403.9 1153.9 404.0 1149.2 404.2 1145.4 404.3 1145.2 404.5 1148.8 404.6 1153.6 404.7 1149.9 404.9 1143.5 405.0 1151.6 405.2 1148.3 405.3 1143.7 405.4 1143.4 405.6 1142.9 405.7 1147.2 405.9 1153.8 406.0 1147.3 406.1 1148.9 406.3 1147.4 406.4 1142.4 406.6 1149.0 406.7 1146.3 406.8 1149.4 407.0 1149.5 407.1 1152.9 407.3 1149.2 407.4 1152.6 407.5 1142.4 407.7 1145.5 407.8 1154.9 408.0 1144.9 408.1 1150.7 408.2 1148.4 408.4 1146.6 408.5 1142.6 408.7 1150.0 408.8 1151.7 408.9 1149.5 409.1 1148.0 409.2 1148.7 409.4 1143.8 409.5 1150.8 409.6 1152.4 409.8 1152.7 409.9 1144.1 410.1 1148.5 410.2 1148.6 410.3 1148.4 410.5 1149.9 410.6 1145.3 410.8 1139.2 410.9 1147.0 411.0 1143.9 411.2 1147.7 411.3 1147.7 411.5 1147.0 411.6 1147.6 411.7 1146.3 411.9 1147.5 412.0 1150.1 412.2 1148.6 412.3 1142.3 412.4 1147.7 412.6 1150.1 412.7 1145.3 412.9 1148.9 413.0 1148.9 413.1 1143.6 413.3 1143.1 413.4 1147.0 413.6 1146.1 413.7 1144.6 413.8 1142.3 414.0 1145.8 414.1 1143.5 414.3 1146.1 414.4 1146.4 414.5 1147.6 414.7 1150.6 414.8 1141.4 415.0 1142.8 415.1 1156.5 415.2 1146.2 415.4 1147.6 415.5 1155.2 415.7 1151.6 415.8 1145.0 415.9 1147.4 416.1 1147.6 416.2 1152.5 416.4 1146.1 416.5 1149.2 416.6 1150.6 416.8 1156.0 416.9 1142.0 417.1 1140.9 417.2 1144.7 417.3 1141.8 417.5 1143.4 417.6 1144.2 417.8 1145.7 417.9 1146.9 418.0 1146.2 418.2 1145.2 418.3 1147.4 418.5 1145.4 418.6 1147.6 418.7 1145.9 418.9 1148.1 419.0 1147.8 419.2 1145.5 419.3 1147.0 419.4 1144.9 419.6 1146.9 419.7 1146.4 419.9 1145.1 420.0 1142.4 420.1 1142.8 420.3 1149.4 420.4 1146.1 420.6 1140.5 420.7 1146.6 420.8 1145.9 421.0 1140.2 421.1 1149.7 421.3 1141.6 421.4 1148.6 421.5 1144.9 421.7 1149.2 421.8 1151.7 422.0 1146.0 422.1 1152.5 422.2 1137.0 422.4 1146.6 422.5 1150.2 422.7 1152.5 422.8 1141.4 422.9 1147.7 423.1 1139.3 423.2 1151.7 423.4 1150.5 423.5 1143.6 423.6 1149.7 423.8 1141.5 423.9 1145.5 424.1 1140.0 424.2 1150.7 424.3 1148.5 424.5 1147.7 424.6 1149.2 424.8 1146.7 424.9 1148.1 425.0 1149.8 425.2 1146.3 425.3 1140.5 425.5 1151.7 425.6 1147.3 425.7 1151.3 425.9 1145.2 426.0 1141.9 426.2 1143.2 426.3 1146.9 426.4 1146.5 426.6 1149.4 426.7 1148.9 426.9 1145.4 427.0 1152.2 427.1 1145.1 427.3 1149.6 427.4 1146.0 427.6 1144.7 427.7 1146.6 427.8 1145.4 428.0 1150.1 428.1 1141.2 428.3 1148.4 428.4 1146.3 428.5 1143.6 428.7 1142.2 428.8 1147.1 429.0 1147.4 429.1 1143.5 429.2 1142.4 429.4 1152.9 429.5 1146.7 429.7 1142.4 429.8 1150.3 429.9 1146.0 430.1 1149.4 430.2 1146.1 430.4 1152.2 430.5 1146.2 430.6 1143.5 430.8 1143.5 430.9 1148.2 431.1 1146.7 431.2 1145.1 431.3 1146.0 431.5 1146.8 431.6 1140.6 431.8 1147.3 431.9 1143.7 432.0 1146.2 432.2 1146.8 432.3 1146.7 432.5 1150.0 432.6 1144.1 432.7 1145.7 432.9 1141.3 433.0 1146.9 433.2 1144.5 433.3 1145.9 433.4 1147.9 433.6 1148.2 433.7 1147.1 433.9 1145.6 434.0 1144.4 434.1 1147.2 434.3 1150.7 434.4 1149.7 434.6 1145.1 434.7 1142.1 434.8 1142.2 435.0 1145.4 435.1 1141.3 435.3 1141.6 435.4 1142.5 435.5 1151.1 435.7 1143.7 435.8 1147.4 436.0 1144.3 436.1 1146.8 436.2 1144.3 436.4 1143.8 436.5 1146.3 436.7 1138.4 436.8 1141.4 436.9 1154.0 437.1 1146.2 437.2 1137.0 437.4 1144.9 437.5 1143.7 437.6 1143.8 437.8 1149.4 437.9 1145.5 438.1 1143.9 438.2 1148.7 438.3 1148.8 438.5 1145.9 438.6 1150.2 438.8 1145.4 438.9 1140.3 439.0 1143.3 439.2 1151.9 439.3 1151.5 439.5 1140.8 439.6 1144.7 439.7 1145.6 439.9 1147.5 440.0 1139.2 440.2 1149.3 440.3 1148.0 440.4 1144.6 440.6 1152.7 440.7 1149.0 440.9 1144.6 441.0 1148.1 441.1 1141.5 441.3 1147.4 441.4 1142.9 441.6 1141.8 441.7 1142.7 441.8 1141.4 442.0 1147.5 442.1 1144.7 442.3 1143.3 442.4 1144.3 442.5 1145.5 442.7 1148.6 442.8 1150.4 443.0 1147.8 443.1 1140.8 443.2 1139.7 443.4 1142.8 443.5 1140.3 443.7 1151.1 443.8 1143.6 443.9 1147.5 444.1 1144.6 444.2 1147.2 444.4 1143.7 444.5 1142.1 444.6 1140.0 444.8 1146.1 444.9 1147.8 445.1 1142.1 445.2 1147.2 445.3 1149.4 445.5 1143.5 445.6 1143.1 445.8 1146.4 445.9 1144.2 446.0 1143.3 446.2 1145.8 446.3 1138.5 446.5 1142.5 446.6 1136.3 446.7 1144.2 446.9 1147.6 447.0 1149.3 447.2 1139.3 447.3 1149.4 447.4 1145.5 447.6 1145.4 447.7 1145.2 447.9 1147.6 448.0 1145.1 448.1 1145.7 448.3 1145.0 448.4 1147.0 448.6 1144.7 448.7 1143.5 448.8 1148.3 449.0 1146.4 449.1 1145.5 449.3 1141.2 449.4 1141.2 449.5 1144.6 449.7 1141.9 449.8 1149.1 450.0 1143.1 450.1 1143.8 450.2 1141.8 450.4 1146.9 450.5 1139.0 450.7 1147.0 450.8 1150.1 450.9 1145.2 451.1 1146.5 451.2 1146.5 451.4 1146.8 451.5 1143.3 451.6 1143.1 451.8 1136.8 451.9 1143.8 452.1 1145.5 452.2 1147.9 452.3 1139.3 452.5 1140.0 452.6 1143.6 452.8 1142.7 452.9 1145.9 453.0 1138.5 453.2 1145.8 453.3 1142.1 453.5 1149.5 453.6 1146.7 453.7 1143.0 453.9 1144.9 454.0 1142.8 454.2 1145.6 454.3 1141.8 454.4 1144.6 454.6 1145.3 454.7 1143.5 454.9 1142.5 455.0 1145.4 455.1 1143.5 455.3 1148.8 455.4 1142.5 455.6 1147.9 455.7 1144.0 455.8 1144.1 456.0 1145.1 456.1 1146.2 456.3 1148.0 456.4 1148.1 456.5 1150.6 456.7 1147.8 456.8 1148.4 457.0 1147.2 457.1 1148.1 457.2 1146.3 457.4 1146.5 457.5 1146.3 457.7 1146.5 457.8 1143.6 457.9 1142.6 458.1 1146.9 458.2 1147.2 458.4 1145.2 458.5 1151.4 458.6 1140.7 458.8 1143.2 458.9 1143.7 459.1 1145.3 459.2 1143.7 459.3 1150.5 459.5 1149.5 459.6 1145.4 459.8 1149.5 459.9 1147.5 460.0 1143.2 460.2 1144.5 460.3 1147.7 460.5 1150.3 460.6 1142.4 460.7 1140.1 460.9 1141.4 461.0 1149.9 461.2 1141.0 461.3 1144.0 461.4 1148.8 461.6 1147.6 461.7 1154.2 461.9 1151.2 462.0 1143.1 462.1 1150.6 462.3 1137.0 462.4 1148.3 462.6 1144.9 462.7 1148.5 462.8 1146.0 463.0 1149.1 463.1 1145.0 463.3 1149.4 463.4 1146.8 463.5 1146.0 463.7 1143.9 463.8 1144.9 464.0 1147.5 464.1 1150.2 464.2 1142.0 464.4 1149.1 464.5 1151.6 464.7 1150.1 464.8 1147.0 464.9 1149.4 465.1 1147.4 465.2 1152.6 465.4 1141.7 465.5 1153.1 465.6 1147.7 465.8 1147.5 465.9 1156.9 466.1 1144.8 466.2 1147.0 466.3 1144.3 466.5 1154.2 466.6 1148.5 466.8 1153.3 466.9 1159.0 467.0 1156.3 467.2 1145.8 467.3 1153.2 467.5 1144.5 467.6 1150.0 467.7 1152.0 467.9 1156.7 468.0 1159.1 468.2 1143.7 468.3 1149.0 468.4 1143.2 468.6 1148.3 468.7 1156.0 468.9 1145.8 469.0 1151.0 469.1 1155.6 469.3 1151.1 469.4 1154.8 469.6 1148.7 469.7 1146.0 469.8 1160.3 470.0 1143.7 470.1 1151.1 470.3 1143.1 470.4 1150.7 470.5 1147.0 470.7 1146.7 470.8 1151.2 471.0 1154.2 471.1 1149.1 471.2 1151.7 471.4 1150.3 471.5 1145.8 471.7 1149.4 471.8 1151.3 471.9 1153.0 472.1 1156.1 472.2 1150.4 472.4 1146.3 472.5 1152.7 472.6 1151.2 472.8 1152.9 472.9 1152.5 473.1 1154.3 473.2 1154.9 473.3 1148.8 473.5 1157.0 473.6 1153.8 473.8 1155.0 473.9 1153.2 474.0 1154.0 474.2 1150.3 474.3 1155.8 474.5 1143.2 474.6 1155.5 474.7 1149.7 474.9 1152.4 475.0 1152.7 475.2 1153.2 475.3 1149.3 475.4 1153.9 475.6 1150.7 475.7 1148.7 475.9 1151.6 476.0 1151.8 476.1 1149.0 476.3 1155.9 476.4 1149.3 476.6 1153.2 476.7 1151.2 476.8 1143.5 477.0 1155.7 477.1 1147.0 477.3 1147.5 477.4 1159.1 477.5 1152.7 477.7 1153.6 477.8 1155.0 478.0 1152.5 478.1 1147.1 478.2 1157.6 478.4 1156.5 478.5 1149.9 478.7 1148.4 478.8 1155.1 478.9 1149.6 479.1 1154.5 479.2 1149.3 479.4 1151.3 479.5 1156.3 479.6 1156.5 479.8 1157.9 479.9 1154.3 480.1 1154.6 480.2 1153.0 480.3 1159.2 480.5 1147.5 480.6 1158.7 480.8 1156.3 480.9 1151.9 481.0 1145.1 481.2 1156.1 481.3 1147.8 481.5 1153.2 481.6 1152.4 481.7 1150.7 481.9 1147.2 482.0 1154.0 482.2 1156.4 482.3 1145.8 482.4 1159.5 482.6 1151.9 482.7 1154.5 482.9 1151.4 483.0 1149.9 483.1 1148.6 483.3 1156.6 483.4 1151.6 483.6 1151.2 483.7 1148.6 483.8 1150.2 484.0 1150.2 484.1 1155.0 484.3 1155.9 484.4 1149.7 484.5 1146.0 484.7 1155.6 484.8 1153.4 485.0 1147.9 485.1 1147.5 485.2 1154.7 485.4 1144.5 485.5 1156.8 485.7 1149.7 485.8 1150.0 485.9 1157.1 486.1 1148.5 486.2 1157.3 486.4 1151.7 486.5 1151.6 486.6 1156.8 486.8 1149.2 486.9 1152.2 487.1 1157.3 487.2 1149.5 487.3 1145.2 487.5 1148.6 487.6 1153.4 487.8 1151.4 487.9 1151.7 488.0 1153.7 488.2 1151.6 488.3 1149.3 488.5 1155.3 488.6 1154.4 488.7 1150.4 488.9 1149.7 489.0 1163.5 489.2 1147.7 489.3 1154.1 489.4 1146.5 489.6 1145.0 489.7 1157.0 489.9 1152.0 490.0 1150.0 490.1 1156.4 490.3 1151.7 490.4 1149.8 490.6 1149.4 490.7 1155.9 490.8 1152.8 491.0 1152.7 491.1 1151.4 491.3 1150.9 491.4 1146.5 491.5 1152.8 491.7 1153.7 491.8 1153.6 492.0 1155.8 492.1 1155.6 492.2 1150.3 492.4 1154.1 492.5 1150.7 492.7 1157.9 492.8 1150.9 492.9 1154.3 493.1 1149.0 493.2 1153.8 493.4 1147.0 493.5 1145.7 493.6 1153.5 493.8 1154.8 493.9 1156.5 494.1 1152.9 494.2 1153.7 494.3 1151.6 494.5 1155.3 494.6 1150.2 494.8 1150.9 494.9 1161.6 495.0 1149.5 495.2 1155.4 495.3 1151.3 495.5 1154.3 495.6 1152.4 495.7 1148.9 495.9 1148.7 496.0 1146.5 496.2 1158.5 496.3 1155.4 496.4 1148.0 496.6 1149.1 496.7 1160.8 496.9 1152.5 497.0 1152.2 497.1 1150.2 497.3 1151.9 497.4 1148.8 497.6 1144.7 497.7 1152.0 497.8 1151.8 498.0 1155.0 498.1 1151.1 498.3 1145.5 498.4 1155.8 498.5 1154.3 498.7 1152.2 498.8 1158.5 499.0 1156.8 499.1 1148.9 499.2 1151.7 499.4 1151.6 499.5 1150.8 499.7 1156.5 499.8 1155.7 499.9 1148.6 500.1 1155.9 500.2 1156.9 500.4 1151.8 500.5 1151.3 500.6 1147.6 500.8 1151.9 500.9 1153.9 501.1 1146.7 501.2 1148.7 501.3 1148.0 501.5 1150.0 501.6 1153.2 501.8 1152.1 501.9 1152.1 502.0 1149.4 502.2 1155.3 502.3 1154.2 502.5 1152.2 502.6 1149.5 502.7 1148.0 502.9 1153.2 503.0 1152.6 503.2 1153.2 503.3 1156.3 503.4 1154.7 503.6 1143.8 503.7 1151.4 503.9 1150.9 504.0 1154.9 504.1 1150.1 504.3 1152.9 504.4 1154.9 504.6 1147.9 504.7 1155.9 504.8 1153.5 505.0 1151.7 505.1 1146.4 505.3 1150.2 505.4 1148.7 505.5 1152.2 505.7 1151.8 505.8 1152.5 506.0 1153.4" stroke="#000" stroke-width="0.9" fill="none"/>
<path d="M459 1146L460.5 1138L461.3 1147L462.2 1131.5L463 1145L463.8 1134L464.6 1147L465.5 1132L466.3 1148L467.2 1140L468 1152" stroke="#000" stroke-width="1.1" fill="none"/>
</svg>
</body></html>
